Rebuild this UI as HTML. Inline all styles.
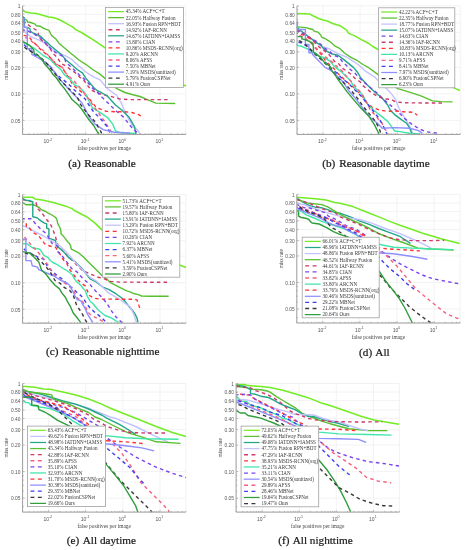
<!DOCTYPE html><html><head><meta charset="utf-8"><style>html,body{margin:0;padding:0;background:#fff;}svg{display:block;filter:blur(0.3px);}</style></head><body>
<svg width="465" height="550" viewBox="0 0 465 550">
<rect width="465" height="550" fill="#fff"/>
<line x1="48.55" y1="5.80" x2="48.55" y2="134.40" stroke="#ebebeb" stroke-width="0.6"/><line x1="85.68" y1="5.80" x2="85.68" y2="134.40" stroke="#ebebeb" stroke-width="0.6"/><line x1="122.81" y1="5.80" x2="122.81" y2="134.40" stroke="#ebebeb" stroke-width="0.6"/><line x1="159.94" y1="5.80" x2="159.94" y2="134.40" stroke="#ebebeb" stroke-width="0.6"/><line x1="22.60" y1="14.34" x2="185.90" y2="14.34" stroke="#ebebeb" stroke-width="0.6"/><line x1="22.60" y1="22.88" x2="185.90" y2="22.88" stroke="#ebebeb" stroke-width="0.6"/><line x1="22.60" y1="32.32" x2="185.90" y2="32.32" stroke="#ebebeb" stroke-width="0.6"/><line x1="22.60" y1="40.86" x2="185.90" y2="40.86" stroke="#ebebeb" stroke-width="0.6"/><line x1="22.60" y1="51.87" x2="185.90" y2="51.87" stroke="#ebebeb" stroke-width="0.6"/><line x1="22.60" y1="67.38" x2="185.90" y2="67.38" stroke="#ebebeb" stroke-width="0.6"/><line x1="22.60" y1="93.90" x2="185.90" y2="93.90" stroke="#ebebeb" stroke-width="0.6"/><line x1="22.60" y1="120.42" x2="185.90" y2="120.42" stroke="#ebebeb" stroke-width="0.6"/><path d="M22.60 5.80H185.90V134.40" fill="none" stroke="#ececec" stroke-width="0.7"/>
<polyline points="22.7,10.2 25.4,12.0 30.8,13.1 36.1,13.6 40.0,14.5 44.3,15.7 48.6,17.0 52.9,17.6 57.2,18.8 61.5,20.7 65.8,23.1 70.1,25.6 72.7,26.9 76.1,29.9 80.0,31.7 84.5,34.5 93.4,39.8 105.0,47.9 140.0,65.0 185.9,86.0" fill="none" stroke="#72ec24" stroke-width="1.55" stroke-linejoin="round"/>
<polyline points="23.2,18.3 24.3,18.8 27.0,20.4 27.5,22.0 30.8,22.5 35.0,24.1 36.1,25.7 40.4,26.3 43.7,28.4 48.9,30.3 50.6,33.8 52.4,36.3 55.8,38.9 58.4,42.4 61.8,45.8 66.1,49.2 70.0,52.7 73.6,55.5 78.9,60.0 85.8,64.3 92.7,69.5 100.0,74.2 105.9,79.1 116.8,88.6 125.0,92.5 132.0,94.5 140.0,96.5 147.4,99.6 155.8,103.1 175.3,103.5" fill="none" stroke="#58c030" stroke-width="1.4" stroke-linejoin="round"/>
<polyline points="22.6,28.0 26.0,33.0 31.7,37.2 38.6,39.8 44.6,43.2 49.8,47.5 55.8,51.8 61.8,54.4 66.1,56.1 71.2,59.0 78.9,66.0 85.8,72.0 92.7,76.3 100.0,79.8 107.3,88.6 116.8,95.5 120.9,102.3 125.0,111.8 129.1,120.0 133.2,126.8 137.3,129.6 140.0,134.0" fill="none" stroke="#c2c2ff" stroke-width="1.4" stroke-linejoin="round"/>
<polyline points="22.6,21.3 25.4,22.5 26.3,22.5 27.4,24.2 30.1,26.3 32.2,27.1 34.4,29.0 36.5,30.1 38.1,32.8 38.7,34.9 40.3,39.2 42.4,40.8 45.5,43.2 49.8,48.4 54.1,54.4 57.5,57.8 60.9,63.4 66.0,66.0 70.3,69.5 75.5,72.9 79.8,77.2 84.1,80.6 90.9,90.0 100.5,94.1 110.0,96.2 119.6,98.9 129.1,99.6 168.4,99.6" fill="none" stroke="#cc3a6a" stroke-width="1.4" stroke-linejoin="round" stroke-dasharray="3.5,3.2" stroke-dashoffset="0"/>
<polyline points="22.6,16.5 24.3,17.7 24.4,27.4 28.5,27.9 30.1,29.0 30.1,31.1 32.8,32.8 35.4,33.8 38.1,35.4 40.8,36.5 43.0,38.7 45.1,40.8 47.2,42.4 50.6,45.8 54.9,49.2 59.2,52.7 62.7,56.1 66.0,60.0 71.2,64.3 77.2,69.5 82.4,72.9 85.8,78.1 90.1,83.2 94.4,88.4 97.8,91.0 100.0,91.8 107.3,96.0 115.5,105.0 122.3,110.5 129.1,117.3 134.6,126.8 135.9,134.0" fill="none" stroke="#22a688" stroke-width="1.4" stroke-linejoin="round"/>
<polyline points="22.6,30.1 26.3,30.1 29.0,31.7 34.9,34.4 38.1,37.1 40.8,38.1 43.5,40.8 45.7,43.5 47.2,44.9 51.5,49.2 55.8,52.7 61.0,55.3 64.4,57.8 66.0,62.6 71.2,66.9 75.5,71.2 78.9,74.6 84.1,78.9 88.4,83.2 92.7,88.4 97.0,91.8 100.0,95.3 107.3,102.3 115.5,110.5 123.7,117.3 129.1,124.1 133.2,129.6 139.0,133.5" fill="none" stroke="#7a44ee" stroke-width="1.4" stroke-linejoin="round" stroke-dasharray="3.5,3.2" stroke-dashoffset="1.3"/>
<polyline points="22.6,31.5 23.6,32.2 24.2,33.8 24.2,35.4 29.0,36.5 31.1,39.7 32.8,41.4 34.9,43.5 36.5,45.1 38.6,47.5 42.0,51.0 45.5,53.5 49.0,56.3 53.5,60.8 55.8,64.5 60.0,66.0 62.6,67.7 65.2,72.9 68.6,77.2 72.9,85.0 77.2,88.4 82.4,92.7 86.7,96.1 89.2,98.7 96.4,107.7 105.9,111.2 115.5,111.8 125.0,111.8 131.8,112.5 138.7,114.6 142.5,117.1" fill="none" stroke="#ff3030" stroke-width="1.4" stroke-linejoin="round" stroke-dasharray="3.5,3.2" stroke-dashoffset="2.6"/>
<polyline points="22.6,42.0 28.0,44.5 34.3,48.4 38.6,51.8 42.9,55.3 47.5,57.8 50.6,60.0 55.0,64.5 61.0,69.8 64.3,74.6 68.6,78.1 72.9,82.4 74.6,85.0 78.9,86.7 83.2,91.0 85.8,94.4 87.5,97.8 88.4,100.0 92.3,107.7 99.1,111.8 107.3,117.3 112.7,124.1 115.5,131.0 121.0,132.8 135.0,133.5" fill="none" stroke="#40e6aa" stroke-width="1.4" stroke-linejoin="round"/>
<polyline points="22.6,36.0 30.0,40.0 40.0,48.0 45.0,52.0 50.0,57.0 55.8,64.5 58.0,64.5 62.6,67.6 65.6,72.8 69.3,76.6 75.0,82.0 80.0,88.0 88.0,98.0 95.0,108.0 100.0,115.0 105.0,122.0 110.0,130.0 113.0,134.0" fill="none" stroke="#f8607e" stroke-width="1.4" stroke-linejoin="round" stroke-dasharray="3.5,3.2" stroke-dashoffset="3.9"/>
<polyline points="22.6,44.0 24.6,45.2 32.3,52.9 41.4,59.4 47.5,63.8 52.0,68.3 55.0,72.8 60.0,77.2 64.3,80.6 68.6,84.1 72.0,87.5 76.3,91.8 80.6,95.3 84.9,98.7 88.2,104.0 93.6,111.8 100.5,118.7 107.3,126.8 110.0,132.8" fill="none" stroke="#4040f0" stroke-width="1.4" stroke-linejoin="round" stroke-dasharray="3.5,3.2" stroke-dashoffset="5.2"/>
<polyline points="24.0,18.3 24.0,27.3 27.3,27.3 27.3,48.6 31.8,48.6 31.8,54.3 40.0,59.0 47.5,64.0 52.0,69.0 56.0,74.0 60.0,79.8 65.2,85.0 69.5,90.1 73.8,94.4 78.1,98.7 82.0,103.0 89.5,117.3 95.0,124.1 103.2,129.6 114.1,132.3 130.0,133.0" fill="none" stroke="#8e8eff" stroke-width="1.4" stroke-linejoin="round"/>
<polyline points="22.6,46.0 28.0,50.0 36.9,54.4 42.0,58.7 48.0,65.0 52.0,70.0 56.0,75.0 61.7,81.5 66.0,85.8 70.3,90.1 74.6,94.4 78.1,98.7 80.0,103.7 88.2,114.6 95.0,121.4 100.5,131.0 102.0,134.0" fill="none" stroke="#383838" stroke-width="1.4" stroke-linejoin="round" stroke-dasharray="3.5,3.2" stroke-dashoffset="4.5"/>
<polyline points="22.6,41.5 25.3,42.9 29.4,45.3 33.5,49.4 34.3,53.5 38.4,56.0 42.0,59.3 44.5,63.8 49.8,69.8 53.5,75.0 56.5,78.0 60.0,83.2 64.3,88.4 68.6,94.4 72.0,99.6 78.8,105.6 82.0,109.5 88.2,118.7 93.6,125.5 97.7,132.3 99.0,134.0" fill="none" stroke="#2f9e3c" stroke-width="1.4" stroke-linejoin="round"/>
<path d="M22.60 5.80V134.40H185.90" fill="none" stroke="#9a9a9a" stroke-width="1"/><line x1="22.60" y1="134.40" x2="22.60" y2="133.20" stroke="#9a9a9a" stroke-width="0.6"/><line x1="29.14" y1="134.40" x2="29.14" y2="133.20" stroke="#9a9a9a" stroke-width="0.6"/><line x1="33.78" y1="134.40" x2="33.78" y2="133.20" stroke="#9a9a9a" stroke-width="0.6"/><line x1="37.38" y1="134.40" x2="37.38" y2="133.20" stroke="#9a9a9a" stroke-width="0.6"/><line x1="40.32" y1="134.40" x2="40.32" y2="133.20" stroke="#9a9a9a" stroke-width="0.6"/><line x1="42.80" y1="134.40" x2="42.80" y2="133.20" stroke="#9a9a9a" stroke-width="0.6"/><line x1="44.95" y1="134.40" x2="44.95" y2="133.20" stroke="#9a9a9a" stroke-width="0.6"/><line x1="46.85" y1="134.40" x2="46.85" y2="133.20" stroke="#9a9a9a" stroke-width="0.6"/><line x1="48.55" y1="134.40" x2="48.55" y2="132.40" stroke="#9a9a9a" stroke-width="0.6"/><line x1="59.73" y1="134.40" x2="59.73" y2="133.20" stroke="#9a9a9a" stroke-width="0.6"/><line x1="66.27" y1="134.40" x2="66.27" y2="133.20" stroke="#9a9a9a" stroke-width="0.6"/><line x1="70.91" y1="134.40" x2="70.91" y2="133.20" stroke="#9a9a9a" stroke-width="0.6"/><line x1="74.51" y1="134.40" x2="74.51" y2="133.20" stroke="#9a9a9a" stroke-width="0.6"/><line x1="77.45" y1="134.40" x2="77.45" y2="133.20" stroke="#9a9a9a" stroke-width="0.6"/><line x1="79.93" y1="134.40" x2="79.93" y2="133.20" stroke="#9a9a9a" stroke-width="0.6"/><line x1="82.08" y1="134.40" x2="82.08" y2="133.20" stroke="#9a9a9a" stroke-width="0.6"/><line x1="83.98" y1="134.40" x2="83.98" y2="133.20" stroke="#9a9a9a" stroke-width="0.6"/><line x1="85.68" y1="134.40" x2="85.68" y2="132.40" stroke="#9a9a9a" stroke-width="0.6"/><line x1="96.86" y1="134.40" x2="96.86" y2="133.20" stroke="#9a9a9a" stroke-width="0.6"/><line x1="103.40" y1="134.40" x2="103.40" y2="133.20" stroke="#9a9a9a" stroke-width="0.6"/><line x1="108.04" y1="134.40" x2="108.04" y2="133.20" stroke="#9a9a9a" stroke-width="0.6"/><line x1="111.64" y1="134.40" x2="111.64" y2="133.20" stroke="#9a9a9a" stroke-width="0.6"/><line x1="114.58" y1="134.40" x2="114.58" y2="133.20" stroke="#9a9a9a" stroke-width="0.6"/><line x1="117.06" y1="134.40" x2="117.06" y2="133.20" stroke="#9a9a9a" stroke-width="0.6"/><line x1="119.21" y1="134.40" x2="119.21" y2="133.20" stroke="#9a9a9a" stroke-width="0.6"/><line x1="121.11" y1="134.40" x2="121.11" y2="133.20" stroke="#9a9a9a" stroke-width="0.6"/><line x1="122.81" y1="134.40" x2="122.81" y2="132.40" stroke="#9a9a9a" stroke-width="0.6"/><line x1="133.99" y1="134.40" x2="133.99" y2="133.20" stroke="#9a9a9a" stroke-width="0.6"/><line x1="140.53" y1="134.40" x2="140.53" y2="133.20" stroke="#9a9a9a" stroke-width="0.6"/><line x1="145.17" y1="134.40" x2="145.17" y2="133.20" stroke="#9a9a9a" stroke-width="0.6"/><line x1="148.77" y1="134.40" x2="148.77" y2="133.20" stroke="#9a9a9a" stroke-width="0.6"/><line x1="151.71" y1="134.40" x2="151.71" y2="133.20" stroke="#9a9a9a" stroke-width="0.6"/><line x1="154.19" y1="134.40" x2="154.19" y2="133.20" stroke="#9a9a9a" stroke-width="0.6"/><line x1="156.34" y1="134.40" x2="156.34" y2="133.20" stroke="#9a9a9a" stroke-width="0.6"/><line x1="158.24" y1="134.40" x2="158.24" y2="133.20" stroke="#9a9a9a" stroke-width="0.6"/><line x1="159.94" y1="134.40" x2="159.94" y2="132.40" stroke="#9a9a9a" stroke-width="0.6"/><line x1="171.12" y1="134.40" x2="171.12" y2="133.20" stroke="#9a9a9a" stroke-width="0.6"/><line x1="177.66" y1="134.40" x2="177.66" y2="133.20" stroke="#9a9a9a" stroke-width="0.6"/><line x1="182.30" y1="134.40" x2="182.30" y2="133.20" stroke="#9a9a9a" stroke-width="0.6"/><line x1="185.90" y1="134.40" x2="185.90" y2="133.20" stroke="#9a9a9a" stroke-width="0.6"/><line x1="22.60" y1="128.96" x2="23.80" y2="128.96" stroke="#9a9a9a" stroke-width="0.6"/><line x1="22.60" y1="120.42" x2="24.60" y2="120.42" stroke="#9a9a9a" stroke-width="0.6"/><line x1="22.60" y1="113.44" x2="23.80" y2="113.44" stroke="#9a9a9a" stroke-width="0.6"/><line x1="22.60" y1="107.55" x2="23.80" y2="107.55" stroke="#9a9a9a" stroke-width="0.6"/><line x1="22.60" y1="102.44" x2="23.80" y2="102.44" stroke="#9a9a9a" stroke-width="0.6"/><line x1="22.60" y1="97.93" x2="23.80" y2="97.93" stroke="#9a9a9a" stroke-width="0.6"/><line x1="22.60" y1="93.90" x2="24.60" y2="93.90" stroke="#9a9a9a" stroke-width="0.6"/><line x1="22.60" y1="67.38" x2="24.60" y2="67.38" stroke="#9a9a9a" stroke-width="0.6"/><line x1="22.60" y1="51.87" x2="24.60" y2="51.87" stroke="#9a9a9a" stroke-width="0.6"/><line x1="22.60" y1="40.86" x2="24.60" y2="40.86" stroke="#9a9a9a" stroke-width="0.6"/><line x1="22.60" y1="32.32" x2="24.60" y2="32.32" stroke="#9a9a9a" stroke-width="0.6"/><line x1="22.60" y1="25.34" x2="23.80" y2="25.34" stroke="#9a9a9a" stroke-width="0.6"/><line x1="22.60" y1="22.88" x2="24.60" y2="22.88" stroke="#9a9a9a" stroke-width="0.6"/><line x1="22.60" y1="19.45" x2="23.80" y2="19.45" stroke="#9a9a9a" stroke-width="0.6"/><line x1="22.60" y1="14.34" x2="24.60" y2="14.34" stroke="#9a9a9a" stroke-width="0.6"/><line x1="22.60" y1="9.83" x2="23.80" y2="9.83" stroke="#9a9a9a" stroke-width="0.6"/><line x1="22.60" y1="5.80" x2="24.60" y2="5.80" stroke="#9a9a9a" stroke-width="0.6"/>
<text x="20.40" y="8.10" text-anchor="end" font-family="Liberation Sans" font-size="4.85" fill="#555">1</text><text x="20.40" y="16.64" text-anchor="end" font-family="Liberation Sans" font-size="4.85" fill="#555">0.80</text><text x="20.40" y="25.18" text-anchor="end" font-family="Liberation Sans" font-size="4.85" fill="#555">0.64</text><text x="20.40" y="34.62" text-anchor="end" font-family="Liberation Sans" font-size="4.85" fill="#555">0.50</text><text x="20.40" y="43.16" text-anchor="end" font-family="Liberation Sans" font-size="4.85" fill="#555">0.40</text><text x="20.40" y="54.17" text-anchor="end" font-family="Liberation Sans" font-size="4.85" fill="#555">0.30</text><text x="20.40" y="69.68" text-anchor="end" font-family="Liberation Sans" font-size="4.85" fill="#555">0.20</text><text x="20.40" y="96.20" text-anchor="end" font-family="Liberation Sans" font-size="4.85" fill="#555">0.10</text><text x="20.40" y="122.72" text-anchor="end" font-family="Liberation Sans" font-size="4.85" fill="#555">0.05</text><text x="47.95" y="143.00" text-anchor="middle" font-family="Liberation Sans" font-size="5" fill="#555">10<tspan font-size="3.5" dy="-2.4">-2</tspan></text><text x="85.08" y="143.00" text-anchor="middle" font-family="Liberation Sans" font-size="5" fill="#555">10<tspan font-size="3.5" dy="-2.4">-1</tspan></text><text x="122.21" y="143.00" text-anchor="middle" font-family="Liberation Sans" font-size="5" fill="#555">10<tspan font-size="3.5" dy="-2.4">0</tspan></text><text x="159.34" y="143.00" text-anchor="middle" font-family="Liberation Sans" font-size="5" fill="#555">10<tspan font-size="3.5" dy="-2.4">1</tspan></text><text x="104.25" y="149.90" text-anchor="middle" font-family="Liberation Serif" font-size="5.4" fill="#444">false positives per image</text><text transform="translate(8.40,70.10) rotate(-90)" text-anchor="middle" font-family="Liberation Serif" font-size="5.4" fill="#444">miss rate</text>
<rect x="105.50" y="7.40" width="78.00" height="80.00" fill="#fff" stroke="#a0a0a0" stroke-width="0.8"/><line x1="108.10" y1="11.60" x2="124.00" y2="11.60" stroke="#72ec24" stroke-width="1.25"/><text transform="translate(125.80,13.45) scale(0.93,1)" font-family="Liberation Serif" font-size="5.5" fill="#383838">45.34% ACF+C+T</text><line x1="108.10" y1="17.65" x2="124.00" y2="17.65" stroke="#58c030" stroke-width="1.25"/><text transform="translate(125.80,19.50) scale(0.93,1)" font-family="Liberation Serif" font-size="5.5" fill="#383838">22.05% Halfway Fusion</text><line x1="108.10" y1="23.70" x2="124.00" y2="23.70" stroke="#c2c2ff" stroke-width="1.25"/><text transform="translate(125.80,25.55) scale(0.93,1)" font-family="Liberation Serif" font-size="5.5" fill="#383838">16.93% Fusion RPN+BDT</text><line x1="108.50" y1="29.75" x2="119.80" y2="29.75" stroke="#cc3a6a" stroke-width="1.3" stroke-dasharray="3.9,3.5"/><text transform="translate(125.80,31.60) scale(0.93,1)" font-family="Liberation Serif" font-size="5.5" fill="#383838">14.92% IAF-RCNN</text><line x1="108.10" y1="35.80" x2="124.00" y2="35.80" stroke="#22a688" stroke-width="1.25"/><text transform="translate(125.80,37.65) scale(0.93,1)" font-family="Liberation Serif" font-size="5.5" fill="#383838">14.67% IATDNN+IAMSS</text><line x1="108.50" y1="41.85" x2="119.80" y2="41.85" stroke="#7a44ee" stroke-width="1.3" stroke-dasharray="3.9,3.5"/><text transform="translate(125.80,43.70) scale(0.93,1)" font-family="Liberation Serif" font-size="5.5" fill="#383838">13.80% CIAN</text><line x1="108.50" y1="47.90" x2="119.80" y2="47.90" stroke="#ff3030" stroke-width="1.3" stroke-dasharray="3.9,3.5"/><text transform="translate(125.80,49.75) scale(0.93,1)" font-family="Liberation Serif" font-size="5.5" fill="#383838">10.86% MSDS-RCNN(org)</text><line x1="108.10" y1="53.95" x2="124.00" y2="53.95" stroke="#40e6aa" stroke-width="1.25"/><text transform="translate(125.80,55.80) scale(0.93,1)" font-family="Liberation Serif" font-size="5.5" fill="#383838">9.20% ARCNN</text><line x1="108.50" y1="60.00" x2="119.80" y2="60.00" stroke="#f8607e" stroke-width="1.3" stroke-dasharray="3.9,3.5"/><text transform="translate(125.80,61.85) scale(0.93,1)" font-family="Liberation Serif" font-size="5.5" fill="#383838">8.06% AFSS</text><line x1="108.50" y1="66.05" x2="119.80" y2="66.05" stroke="#4040f0" stroke-width="1.3" stroke-dasharray="3.9,3.5"/><text transform="translate(125.80,67.90) scale(0.93,1)" font-family="Liberation Serif" font-size="5.5" fill="#383838">7.50% MBNet</text><line x1="108.10" y1="72.10" x2="124.00" y2="72.10" stroke="#8e8eff" stroke-width="1.25"/><text transform="translate(125.80,73.95) scale(0.93,1)" font-family="Liberation Serif" font-size="5.5" fill="#383838">7.19% MSDS(sanitized)</text><line x1="108.50" y1="78.15" x2="119.80" y2="78.15" stroke="#383838" stroke-width="1.3" stroke-dasharray="3.9,3.5"/><text transform="translate(125.80,80.00) scale(0.93,1)" font-family="Liberation Serif" font-size="5.5" fill="#383838">5.79% FusionCSPNet</text><line x1="108.10" y1="84.20" x2="124.00" y2="84.20" stroke="#2f9e3c" stroke-width="1.25"/><text transform="translate(125.80,86.05) scale(0.93,1)" font-family="Liberation Serif" font-size="5.5" fill="#383838">4.91% Ours</text>
<text x="68.20" y="167.00" font-family="Liberation Serif" font-size="11.2" fill="#1a1a1a" stroke="#1a1a1a" stroke-width="0.22">(a)<tspan dx="0.8"> Reasonable</tspan></text>
<line x1="322.95" y1="5.80" x2="322.95" y2="134.40" stroke="#ebebeb" stroke-width="0.6"/><line x1="360.08" y1="5.80" x2="360.08" y2="134.40" stroke="#ebebeb" stroke-width="0.6"/><line x1="397.21" y1="5.80" x2="397.21" y2="134.40" stroke="#ebebeb" stroke-width="0.6"/><line x1="434.34" y1="5.80" x2="434.34" y2="134.40" stroke="#ebebeb" stroke-width="0.6"/><line x1="297.00" y1="14.34" x2="460.30" y2="14.34" stroke="#ebebeb" stroke-width="0.6"/><line x1="297.00" y1="22.88" x2="460.30" y2="22.88" stroke="#ebebeb" stroke-width="0.6"/><line x1="297.00" y1="32.32" x2="460.30" y2="32.32" stroke="#ebebeb" stroke-width="0.6"/><line x1="297.00" y1="40.86" x2="460.30" y2="40.86" stroke="#ebebeb" stroke-width="0.6"/><line x1="297.00" y1="51.87" x2="460.30" y2="51.87" stroke="#ebebeb" stroke-width="0.6"/><line x1="297.00" y1="67.38" x2="460.30" y2="67.38" stroke="#ebebeb" stroke-width="0.6"/><line x1="297.00" y1="93.90" x2="460.30" y2="93.90" stroke="#ebebeb" stroke-width="0.6"/><line x1="297.00" y1="120.42" x2="460.30" y2="120.42" stroke="#ebebeb" stroke-width="0.6"/><path d="M297.00 5.80H460.30V134.40" fill="none" stroke="#ececec" stroke-width="0.7"/>
<polyline points="297.0,13.6 310.0,14.1 313.0,15.8 318.0,18.3 323.1,20.0 328.0,21.3 332.6,23.5 340.0,25.7 346.6,30.1 348.7,33.4 354.2,35.6 361.8,39.9 368.4,43.2 372.8,46.5 378.0,49.5 420.0,70.0 455.5,88.6 459.8,90.5" fill="none" stroke="#72ec24" stroke-width="1.55" stroke-linejoin="round"/>
<polyline points="297.3,26.9 305.7,27.6 308.9,28.5 312.8,29.5 314.1,31.1 317.9,32.1 320.5,34.7 321.8,37.3 325.0,38.5 329.5,41.3 334.7,45.8 340.0,48.7 344.4,53.0 350.9,57.4 357.5,60.7 362.9,64.5 367.3,66.8 376.8,73.6 390.0,84.0 397.9,88.6 409.4,92.2 420.9,95.9 432.5,100.9 441.1,101.6 452.6,101.9" fill="none" stroke="#58c030" stroke-width="1.4" stroke-linejoin="round"/>
<polyline points="297.0,29.0 305.0,34.0 312.0,39.0 318.0,44.0 322.0,46.5 328.4,48.4 337.9,53.6 346.5,57.0 353.4,61.3 359.4,65.6 365.0,70.8 375.5,77.7 380.9,83.2 386.4,88.6 390.5,92.7 395.0,98.7 399.3,108.8 403.6,116.0 408.0,123.2 410.9,129.0 413.0,134.0" fill="none" stroke="#c2c2ff" stroke-width="1.4" stroke-linejoin="round"/>
<polyline points="297.0,27.5 300.0,30.0 305.0,34.0 308.9,36.8 315.4,41.9 320.5,45.0 325.0,50.2 331.0,53.6 337.9,55.3 343.9,59.6 349.1,63.9 353.4,67.4 357.7,72.5 360.5,77.5 367.3,85.0 375.5,92.7 382.3,98.2 387.7,105.0 390.5,110.5 394.6,114.6 400.0,118.6 406.5,123.2 409.4,127.6 412.0,134.0" fill="none" stroke="#22a688" stroke-width="1.4" stroke-linejoin="round"/>
<polyline points="297.0,31.0 305.0,35.0 312.8,39.4 319.2,43.0 325.0,48.4 330.2,51.9 333.6,55.3 338.8,57.0 342.2,61.3 346.5,65.6 349.9,69.1 354.2,72.5 358.5,76.8 362.8,81.1 370.0,87.3 376.8,92.7 383.7,99.6 391.8,106.4 399.3,113.1 405.1,118.9 412.3,124.7 419.5,129.0 426.7,131.9 432.5,132.6 438.2,133.3" fill="none" stroke="#7a44ee" stroke-width="1.4" stroke-linejoin="round" stroke-dasharray="3.5,3.2" stroke-dashoffset="1.3"/>
<polyline points="297.0,30.0 303.7,32.9 312.8,40.6 319.2,47.1 327.6,53.2 331.0,57.0 334.5,61.3 338.8,63.9 342.2,68.2 346.5,70.8 350.8,74.2 355.1,78.5 360.3,82.0 363.2,85.9 371.4,92.7 378.2,96.8 385.0,98.9 391.8,99.6 395.0,101.6 403.6,102.8 442.6,103.1" fill="none" stroke="#cc3a6a" stroke-width="1.4" stroke-linejoin="round" stroke-dasharray="3.5,3.2" stroke-dashoffset="0"/>
<polyline points="297.0,33.0 303.7,35.0 308.9,38.0 315.4,48.0 321.8,55.0 325.0,60.0 330.2,65.6 333.6,68.2 337.9,73.4 341.3,76.6 346.8,81.8 355.0,88.6 361.8,95.5 367.3,103.7 372.7,107.7 380.9,110.5 389.1,111.2 395.0,111.0 403.6,111.7 413.7,112.4 417.3,115.3" fill="none" stroke="#ff3030" stroke-width="1.4" stroke-linejoin="round" stroke-dasharray="3.5,3.2" stroke-dashoffset="2.6"/>
<polyline points="296.8,43.7 297.9,45.6 301.8,46.3 304.4,47.6 308.9,49.5 312.1,52.1 315.4,53.4 320.0,56.5 325.0,57.9 330.2,61.3 333.6,65.6 337.9,69.1 342.2,72.5 346.5,76.8 350.8,81.1 353.6,86.5 361.8,94.1 367.3,103.7 374.1,110.5 380.9,115.9 387.7,121.4 391.8,126.8 394.6,131.0 400.0,131.6 409.4,133.3 420.0,134.0" fill="none" stroke="#40e6aa" stroke-width="1.4" stroke-linejoin="round"/>
<polyline points="297.0,34.0 305.0,38.0 312.0,44.0 320.0,52.0 327.0,58.0 333.6,63.0 337.9,67.5 342.2,71.0 345.6,75.5 350.8,81.0 356.0,87.0 362.0,94.0 366.0,101.0 370.6,110.6 374.9,114.9 378.4,119.2 381.8,122.7 384.4,128.7 386.1,130.4 388.0,134.0" fill="none" stroke="#f8607e" stroke-width="1.4" stroke-linejoin="round" stroke-dasharray="3.5,3.2" stroke-dashoffset="3.9"/>
<polyline points="297.0,41.9 302.5,43.2 308.0,47.0 315.0,54.0 320.0,58.0 328.4,64.8 331.9,69.1 336.2,72.5 341.4,77.7 348.2,83.2 355.0,90.0 361.8,96.8 367.3,103.7 372.7,110.5 378.2,117.3 382.3,124.1 385.0,129.6 387.0,134.0" fill="none" stroke="#4040f0" stroke-width="1.4" stroke-linejoin="round" stroke-dasharray="3.5,3.2" stroke-dashoffset="5.2"/>
<polyline points="297.3,21.3 297.3,29.5 305.4,29.5 305.4,44.4 308.9,44.4 308.9,52.7 312.1,52.7 312.8,54.8 317.9,60.0 321.8,63.9 325.0,67.4 330.2,70.0 335.3,74.2 339.6,78.5 343.9,82.8 348.2,90.0 356.4,99.6 364.6,110.5 370.0,117.3 376.8,122.8 382.3,128.2 395.0,127.6 409.4,128.3 418.0,130.4 422.4,133.3" fill="none" stroke="#8e8eff" stroke-width="1.4" stroke-linejoin="round"/>
<polyline points="297.3,39.4 303.7,43.2 309.0,48.0 315.0,54.0 320.5,59.0 327.0,65.0 333.4,72.0 337.9,78.0 341.4,80.5 348.2,87.3 356.4,96.8 363.2,106.4 370.0,114.6 375.5,121.4 379.6,129.6 381.0,134.0" fill="none" stroke="#383838" stroke-width="1.4" stroke-linejoin="round" stroke-dasharray="3.5,3.2" stroke-dashoffset="4.5"/>
<polyline points="297.3,36.6 301.8,36.6 301.8,38.9 305.7,39.8 308.9,41.1 312.8,43.7 313.4,46.9 313.4,52.1 315.4,53.4 320.5,57.4 325.0,63.1 329.3,65.6 331.9,70.8 335.3,75.1 337.9,79.4 340.5,82.8 346.8,91.4 353.6,99.6 361.8,109.1 368.6,115.9 374.1,124.1 378.2,132.3 379.0,134.0" fill="none" stroke="#2f9e3c" stroke-width="1.4" stroke-linejoin="round"/>
<path d="M297.00 5.80V134.40H460.30" fill="none" stroke="#9a9a9a" stroke-width="1"/><line x1="297.00" y1="134.40" x2="297.00" y2="133.20" stroke="#9a9a9a" stroke-width="0.6"/><line x1="303.54" y1="134.40" x2="303.54" y2="133.20" stroke="#9a9a9a" stroke-width="0.6"/><line x1="308.18" y1="134.40" x2="308.18" y2="133.20" stroke="#9a9a9a" stroke-width="0.6"/><line x1="311.78" y1="134.40" x2="311.78" y2="133.20" stroke="#9a9a9a" stroke-width="0.6"/><line x1="314.72" y1="134.40" x2="314.72" y2="133.20" stroke="#9a9a9a" stroke-width="0.6"/><line x1="317.20" y1="134.40" x2="317.20" y2="133.20" stroke="#9a9a9a" stroke-width="0.6"/><line x1="319.35" y1="134.40" x2="319.35" y2="133.20" stroke="#9a9a9a" stroke-width="0.6"/><line x1="321.25" y1="134.40" x2="321.25" y2="133.20" stroke="#9a9a9a" stroke-width="0.6"/><line x1="322.95" y1="134.40" x2="322.95" y2="132.40" stroke="#9a9a9a" stroke-width="0.6"/><line x1="334.13" y1="134.40" x2="334.13" y2="133.20" stroke="#9a9a9a" stroke-width="0.6"/><line x1="340.67" y1="134.40" x2="340.67" y2="133.20" stroke="#9a9a9a" stroke-width="0.6"/><line x1="345.31" y1="134.40" x2="345.31" y2="133.20" stroke="#9a9a9a" stroke-width="0.6"/><line x1="348.91" y1="134.40" x2="348.91" y2="133.20" stroke="#9a9a9a" stroke-width="0.6"/><line x1="351.85" y1="134.40" x2="351.85" y2="133.20" stroke="#9a9a9a" stroke-width="0.6"/><line x1="354.33" y1="134.40" x2="354.33" y2="133.20" stroke="#9a9a9a" stroke-width="0.6"/><line x1="356.48" y1="134.40" x2="356.48" y2="133.20" stroke="#9a9a9a" stroke-width="0.6"/><line x1="358.38" y1="134.40" x2="358.38" y2="133.20" stroke="#9a9a9a" stroke-width="0.6"/><line x1="360.08" y1="134.40" x2="360.08" y2="132.40" stroke="#9a9a9a" stroke-width="0.6"/><line x1="371.26" y1="134.40" x2="371.26" y2="133.20" stroke="#9a9a9a" stroke-width="0.6"/><line x1="377.80" y1="134.40" x2="377.80" y2="133.20" stroke="#9a9a9a" stroke-width="0.6"/><line x1="382.44" y1="134.40" x2="382.44" y2="133.20" stroke="#9a9a9a" stroke-width="0.6"/><line x1="386.04" y1="134.40" x2="386.04" y2="133.20" stroke="#9a9a9a" stroke-width="0.6"/><line x1="388.98" y1="134.40" x2="388.98" y2="133.20" stroke="#9a9a9a" stroke-width="0.6"/><line x1="391.46" y1="134.40" x2="391.46" y2="133.20" stroke="#9a9a9a" stroke-width="0.6"/><line x1="393.61" y1="134.40" x2="393.61" y2="133.20" stroke="#9a9a9a" stroke-width="0.6"/><line x1="395.51" y1="134.40" x2="395.51" y2="133.20" stroke="#9a9a9a" stroke-width="0.6"/><line x1="397.21" y1="134.40" x2="397.21" y2="132.40" stroke="#9a9a9a" stroke-width="0.6"/><line x1="408.39" y1="134.40" x2="408.39" y2="133.20" stroke="#9a9a9a" stroke-width="0.6"/><line x1="414.93" y1="134.40" x2="414.93" y2="133.20" stroke="#9a9a9a" stroke-width="0.6"/><line x1="419.57" y1="134.40" x2="419.57" y2="133.20" stroke="#9a9a9a" stroke-width="0.6"/><line x1="423.17" y1="134.40" x2="423.17" y2="133.20" stroke="#9a9a9a" stroke-width="0.6"/><line x1="426.11" y1="134.40" x2="426.11" y2="133.20" stroke="#9a9a9a" stroke-width="0.6"/><line x1="428.59" y1="134.40" x2="428.59" y2="133.20" stroke="#9a9a9a" stroke-width="0.6"/><line x1="430.74" y1="134.40" x2="430.74" y2="133.20" stroke="#9a9a9a" stroke-width="0.6"/><line x1="432.64" y1="134.40" x2="432.64" y2="133.20" stroke="#9a9a9a" stroke-width="0.6"/><line x1="434.34" y1="134.40" x2="434.34" y2="132.40" stroke="#9a9a9a" stroke-width="0.6"/><line x1="445.52" y1="134.40" x2="445.52" y2="133.20" stroke="#9a9a9a" stroke-width="0.6"/><line x1="452.06" y1="134.40" x2="452.06" y2="133.20" stroke="#9a9a9a" stroke-width="0.6"/><line x1="456.70" y1="134.40" x2="456.70" y2="133.20" stroke="#9a9a9a" stroke-width="0.6"/><line x1="460.30" y1="134.40" x2="460.30" y2="133.20" stroke="#9a9a9a" stroke-width="0.6"/><line x1="297.00" y1="128.96" x2="298.20" y2="128.96" stroke="#9a9a9a" stroke-width="0.6"/><line x1="297.00" y1="120.42" x2="299.00" y2="120.42" stroke="#9a9a9a" stroke-width="0.6"/><line x1="297.00" y1="113.44" x2="298.20" y2="113.44" stroke="#9a9a9a" stroke-width="0.6"/><line x1="297.00" y1="107.55" x2="298.20" y2="107.55" stroke="#9a9a9a" stroke-width="0.6"/><line x1="297.00" y1="102.44" x2="298.20" y2="102.44" stroke="#9a9a9a" stroke-width="0.6"/><line x1="297.00" y1="97.93" x2="298.20" y2="97.93" stroke="#9a9a9a" stroke-width="0.6"/><line x1="297.00" y1="93.90" x2="299.00" y2="93.90" stroke="#9a9a9a" stroke-width="0.6"/><line x1="297.00" y1="67.38" x2="299.00" y2="67.38" stroke="#9a9a9a" stroke-width="0.6"/><line x1="297.00" y1="51.87" x2="299.00" y2="51.87" stroke="#9a9a9a" stroke-width="0.6"/><line x1="297.00" y1="40.86" x2="299.00" y2="40.86" stroke="#9a9a9a" stroke-width="0.6"/><line x1="297.00" y1="32.32" x2="299.00" y2="32.32" stroke="#9a9a9a" stroke-width="0.6"/><line x1="297.00" y1="25.34" x2="298.20" y2="25.34" stroke="#9a9a9a" stroke-width="0.6"/><line x1="297.00" y1="22.88" x2="299.00" y2="22.88" stroke="#9a9a9a" stroke-width="0.6"/><line x1="297.00" y1="19.45" x2="298.20" y2="19.45" stroke="#9a9a9a" stroke-width="0.6"/><line x1="297.00" y1="14.34" x2="299.00" y2="14.34" stroke="#9a9a9a" stroke-width="0.6"/><line x1="297.00" y1="9.83" x2="298.20" y2="9.83" stroke="#9a9a9a" stroke-width="0.6"/><line x1="297.00" y1="5.80" x2="299.00" y2="5.80" stroke="#9a9a9a" stroke-width="0.6"/>
<text x="294.80" y="8.10" text-anchor="end" font-family="Liberation Sans" font-size="4.85" fill="#555">1</text><text x="294.80" y="16.64" text-anchor="end" font-family="Liberation Sans" font-size="4.85" fill="#555">0.80</text><text x="294.80" y="25.18" text-anchor="end" font-family="Liberation Sans" font-size="4.85" fill="#555">0.64</text><text x="294.80" y="34.62" text-anchor="end" font-family="Liberation Sans" font-size="4.85" fill="#555">0.50</text><text x="294.80" y="43.16" text-anchor="end" font-family="Liberation Sans" font-size="4.85" fill="#555">0.40</text><text x="294.80" y="54.17" text-anchor="end" font-family="Liberation Sans" font-size="4.85" fill="#555">0.30</text><text x="294.80" y="69.68" text-anchor="end" font-family="Liberation Sans" font-size="4.85" fill="#555">0.20</text><text x="294.80" y="96.20" text-anchor="end" font-family="Liberation Sans" font-size="4.85" fill="#555">0.10</text><text x="294.80" y="122.72" text-anchor="end" font-family="Liberation Sans" font-size="4.85" fill="#555">0.05</text><text x="322.35" y="143.00" text-anchor="middle" font-family="Liberation Sans" font-size="5" fill="#555">10<tspan font-size="3.5" dy="-2.4">-2</tspan></text><text x="359.48" y="143.00" text-anchor="middle" font-family="Liberation Sans" font-size="5" fill="#555">10<tspan font-size="3.5" dy="-2.4">-1</tspan></text><text x="396.61" y="143.00" text-anchor="middle" font-family="Liberation Sans" font-size="5" fill="#555">10<tspan font-size="3.5" dy="-2.4">0</tspan></text><text x="433.74" y="143.00" text-anchor="middle" font-family="Liberation Sans" font-size="5" fill="#555">10<tspan font-size="3.5" dy="-2.4">1</tspan></text><text x="378.65" y="149.90" text-anchor="middle" font-family="Liberation Serif" font-size="5.4" fill="#444">false positives per image</text><text transform="translate(282.80,70.10) rotate(-90)" text-anchor="middle" font-family="Liberation Serif" font-size="5.4" fill="#444">miss rate</text>
<rect x="378.60" y="7.80" width="76.20" height="80.00" fill="#fff" stroke="#a0a0a0" stroke-width="0.8"/><line x1="381.20" y1="12.00" x2="397.10" y2="12.00" stroke="#72ec24" stroke-width="1.25"/><text transform="translate(398.90,13.85) scale(0.93,1)" font-family="Liberation Serif" font-size="5.5" fill="#383838">42.22% ACF+C+T</text><line x1="381.20" y1="18.05" x2="397.10" y2="18.05" stroke="#58c030" stroke-width="1.25"/><text transform="translate(398.90,19.90) scale(0.93,1)" font-family="Liberation Serif" font-size="5.5" fill="#383838">22.35% Halfway Fusion</text><line x1="381.20" y1="24.10" x2="397.10" y2="24.10" stroke="#c2c2ff" stroke-width="1.25"/><text transform="translate(398.90,25.95) scale(0.93,1)" font-family="Liberation Serif" font-size="5.5" fill="#383838">18.77% Fusion RPN+BDT</text><line x1="381.20" y1="30.15" x2="397.10" y2="30.15" stroke="#22a688" stroke-width="1.25"/><text transform="translate(398.90,32.00) scale(0.93,1)" font-family="Liberation Serif" font-size="5.5" fill="#383838">15.07% IATDNN+IAMSS</text><line x1="381.60" y1="36.20" x2="392.90" y2="36.20" stroke="#7a44ee" stroke-width="1.3" stroke-dasharray="3.9,3.5"/><text transform="translate(398.90,38.05) scale(0.93,1)" font-family="Liberation Serif" font-size="5.5" fill="#383838">14.63% CIAN</text><line x1="381.60" y1="42.25" x2="392.90" y2="42.25" stroke="#cc3a6a" stroke-width="1.3" stroke-dasharray="3.9,3.5"/><text transform="translate(398.90,44.10) scale(0.93,1)" font-family="Liberation Serif" font-size="5.5" fill="#383838">14.36% IAF-RCNN</text><line x1="381.60" y1="48.30" x2="392.90" y2="48.30" stroke="#ff3030" stroke-width="1.3" stroke-dasharray="3.9,3.5"/><text transform="translate(398.90,50.15) scale(0.93,1)" font-family="Liberation Serif" font-size="5.5" fill="#383838">10.83% MSDS-RCNN(org)</text><line x1="381.20" y1="54.35" x2="397.10" y2="54.35" stroke="#40e6aa" stroke-width="1.25"/><text transform="translate(398.90,56.20) scale(0.93,1)" font-family="Liberation Serif" font-size="5.5" fill="#383838">10.13% ARCNN</text><line x1="381.60" y1="60.40" x2="392.90" y2="60.40" stroke="#f8607e" stroke-width="1.3" stroke-dasharray="3.9,3.5"/><text transform="translate(398.90,62.25) scale(0.93,1)" font-family="Liberation Serif" font-size="5.5" fill="#383838">9.71% AFSS</text><line x1="381.60" y1="66.45" x2="392.90" y2="66.45" stroke="#4040f0" stroke-width="1.3" stroke-dasharray="3.9,3.5"/><text transform="translate(398.90,68.30) scale(0.93,1)" font-family="Liberation Serif" font-size="5.5" fill="#383838">8.41% MBNet</text><line x1="381.20" y1="72.50" x2="397.10" y2="72.50" stroke="#8e8eff" stroke-width="1.25"/><text transform="translate(398.90,74.35) scale(0.93,1)" font-family="Liberation Serif" font-size="5.5" fill="#383838">7.97% MSDS(sanitized)</text><line x1="381.60" y1="78.55" x2="392.90" y2="78.55" stroke="#383838" stroke-width="1.3" stroke-dasharray="3.9,3.5"/><text transform="translate(398.90,80.40) scale(0.93,1)" font-family="Liberation Serif" font-size="5.5" fill="#383838">6.90% FusionCSPNet</text><line x1="381.20" y1="84.60" x2="397.10" y2="84.60" stroke="#2f9e3c" stroke-width="1.25"/><text transform="translate(398.90,86.45) scale(0.93,1)" font-family="Liberation Serif" font-size="5.5" fill="#383838">6.23% Ours</text>
<text x="322.30" y="167.00" font-family="Liberation Serif" font-size="11.2" fill="#1a1a1a" stroke="#1a1a1a" stroke-width="0.22">(b)<tspan dx="1.2"> Reasonable daytime</tspan></text>
<line x1="48.55" y1="194.60" x2="48.55" y2="323.20" stroke="#ebebeb" stroke-width="0.6"/><line x1="85.68" y1="194.60" x2="85.68" y2="323.20" stroke="#ebebeb" stroke-width="0.6"/><line x1="122.81" y1="194.60" x2="122.81" y2="323.20" stroke="#ebebeb" stroke-width="0.6"/><line x1="159.94" y1="194.60" x2="159.94" y2="323.20" stroke="#ebebeb" stroke-width="0.6"/><line x1="22.60" y1="203.14" x2="185.90" y2="203.14" stroke="#ebebeb" stroke-width="0.6"/><line x1="22.60" y1="211.68" x2="185.90" y2="211.68" stroke="#ebebeb" stroke-width="0.6"/><line x1="22.60" y1="221.12" x2="185.90" y2="221.12" stroke="#ebebeb" stroke-width="0.6"/><line x1="22.60" y1="229.66" x2="185.90" y2="229.66" stroke="#ebebeb" stroke-width="0.6"/><line x1="22.60" y1="240.67" x2="185.90" y2="240.67" stroke="#ebebeb" stroke-width="0.6"/><line x1="22.60" y1="256.18" x2="185.90" y2="256.18" stroke="#ebebeb" stroke-width="0.6"/><line x1="22.60" y1="282.70" x2="185.90" y2="282.70" stroke="#ebebeb" stroke-width="0.6"/><line x1="22.60" y1="309.22" x2="185.90" y2="309.22" stroke="#ebebeb" stroke-width="0.6"/><path d="M22.60 194.60H185.90V323.20" fill="none" stroke="#ececec" stroke-width="0.7"/>
<polyline points="22.6,197.3 32.8,197.3 34.9,198.9 43.5,200.3 54.3,202.7 65.0,205.9 72.0,208.6 75.8,211.3 86.5,216.7 95.1,223.1 101.6,229.6 140.0,250.0 180.3,265.3 186.0,267.5" fill="none" stroke="#72ec24" stroke-width="1.55" stroke-linejoin="round"/>
<polyline points="22.6,202.5 26.3,204.8 32.8,204.5 34.9,205.4 39.2,207.5 41.4,209.7 45.7,211.5 47.8,212.9 51.9,215.0 55.8,217.6 57.1,220.2 57.7,223.4 59.0,226.0 60.3,228.5 61.0,231.8 61.0,233.7 62.9,235.6 65.5,238.9 67.4,241.5 69.4,243.4 70.6,246.0 71.3,249.2 78.8,252.9 83.2,256.8 88.6,262.3 95.5,269.1 100.9,274.6 106.4,278.6 110.5,282.7 118.7,286.8 126.8,290.9 130.0,291.8 133.9,293.7 137.7,294.4 141.6,296.0 149.4,296.3 168.7,296.3" fill="none" stroke="#58c030" stroke-width="1.4" stroke-linejoin="round"/>
<polyline points="22.6,199.5 36.0,202.7 38.1,209.1 41.4,212.4 44.6,216.7 47.8,221.0 51.0,225.3 53.2,230.6 55.3,236.0 56.4,240.3 58.6,246.8 67.2,255.4 75.8,264.0 82.0,270.0 88.6,273.2 98.2,277.3 103.6,278.6 110.5,281.4 120.0,282.1 167.4,282.3" fill="none" stroke="#cc3a6a" stroke-width="1.4" stroke-linejoin="round" stroke-dasharray="3.5,3.2" stroke-dashoffset="0"/>
<polyline points="22.6,198.4 26.3,200.5 28.5,200.5 32.8,201.6 32.8,216.7 37.0,217.7 40.9,220.9 44.5,223.1 46.7,223.8 46.7,228.2 48.9,228.9 48.9,238.4 51.6,239.2 55.5,240.5 56.1,244.4 58.7,247.6 61.9,250.2 65.2,253.4 67.7,256.6 70.0,258.6 75.5,262.0 78.7,265.2 81.3,267.8 83.9,271.0 86.5,274.3 88.4,276.8 90.0,278.8 95.5,281.5 102.3,286.8 109.1,289.6 115.9,293.7 121.4,297.7 125.5,301.8 129.6,307.3 132.6,310.5 135.2,314.4 137.0,318.0 138.0,322.5" fill="none" stroke="#22a688" stroke-width="1.4" stroke-linejoin="round"/>
<polyline points="22.6,225.3 34.9,231.7 43.5,236.0 54.3,242.5 60.0,246.0 67.2,252.9 76.0,263.0 83.2,270.5 90.0,277.3 96.8,281.4 102.3,286.8 107.7,292.3 114.6,296.4 121.4,300.5 126.8,304.6 130.0,306.6 133.9,314.4 136.5,322.5" fill="none" stroke="#c2c2ff" stroke-width="1.4" stroke-linejoin="round"/>
<polyline points="22.6,222.0 26.3,223.1 26.3,227.0 29.5,228.0 32.8,232.5 38.1,235.0 41.3,239.2 44.5,243.7 49.7,246.0 55.5,247.3 58.7,251.5 61.3,256.6 63.9,260.5 67.1,263.7 67.7,265.9 70.3,270.4 76.8,278.8 80.6,282.6 85.2,285.9 89.4,295.5 93.7,298.1 99.6,299.1 135.0,299.3 137.1,300.2 138.4,304.0 139.7,307.9" fill="none" stroke="#ff3030" stroke-width="1.4" stroke-linejoin="round" stroke-dasharray="3.5,3.2" stroke-dashoffset="2.6"/>
<polyline points="22.6,218.8 31.7,218.8 34.9,223.1 39.2,227.4 42.4,230.6 46.7,233.9 49.0,238.6 52.3,243.7 57.4,246.3 58.1,252.1 61.9,255.4 64.5,259.2 67.7,263.1 71.6,268.5 76.8,271.7 80.0,275.5 83.9,279.4 87.7,282.6 90.0,284.6 95.5,290.9 102.3,297.7 107.7,304.6 111.8,311.4 115.9,316.8 120.0,320.9 122.0,322.5" fill="none" stroke="#7a44ee" stroke-width="1.4" stroke-linejoin="round" stroke-dasharray="3.5,3.2" stroke-dashoffset="1.3"/>
<polyline points="22.6,243.7 27.2,243.9 32.3,247.7 38.8,249.0 40.0,249.5 41.9,252.1 43.9,255.4 47.7,257.3 50.3,260.5 52.9,262.5 56.8,264.4 60.0,266.5 63.2,268.5 66.5,270.4 70.3,273.0 72.3,274.9 74.8,279.4 76.8,282.0 79.4,283.9 81.3,285.9 83.2,288.5 85.2,290.4 87.7,297.2 90.3,301.5 92.8,303.5 98.2,310.0 105.0,315.5 111.8,318.2 115.9,320.9 118.7,322.5" fill="none" stroke="#40e6aa" stroke-width="1.4" stroke-linejoin="round"/>
<polyline points="22.6,248.0 27.2,251.6 37.5,256.8 43.9,259.4 47.8,267.1 53.0,272.3 58.1,276.1 63.3,280.0 68.5,285.2 73.6,289.0 76.5,292.0 80.8,295.5 84.2,299.8 87.7,304.9 90.3,308.4 95.5,312.8 102.3,318.2 106.4,322.5" fill="none" stroke="#4040f0" stroke-width="1.4" stroke-linejoin="round" stroke-dasharray="3.5,3.2" stroke-dashoffset="5.2"/>
<polyline points="22.6,235.0 28.0,241.0 32.3,246.5 37.5,251.6 43.0,258.0 50.0,268.0 54.3,274.8 60.7,280.0 67.2,285.0 72.2,288.6 74.8,292.9 77.4,298.1 82.5,301.5 85.1,305.8 87.7,311.8 91.1,315.3 99.6,319.6 105.0,322.5" fill="none" stroke="#f8607e" stroke-width="1.4" stroke-linejoin="round" stroke-dasharray="3.5,3.2" stroke-dashoffset="3.9"/>
<polyline points="22.6,239.2 25.9,239.2 25.9,260.6 31.0,260.6 32.3,265.8 37.5,267.1 38.8,269.7 47.8,273.5 54.3,276.1 60.2,280.0 66.2,282.6 69.6,285.2 72.2,290.3 74.8,295.5 77.4,299.8 80.8,300.6 82.5,304.1 85.1,308.4 87.7,314.4 90.3,318.7 92.8,322.5" fill="none" stroke="#8e8eff" stroke-width="1.4" stroke-linejoin="round"/>
<polyline points="22.6,252.3 34.9,255.5 38.8,259.4 45.2,265.8 50.4,272.3 55.0,280.5 60.2,283.4 64.5,287.7 69.6,290.3 73.1,294.6 74.8,299.8 76.5,304.9 79.9,310.1 82.5,314.4 85.1,319.6 87.0,322.5" fill="none" stroke="#383838" stroke-width="1.4" stroke-linejoin="round" stroke-dasharray="3.5,3.2" stroke-dashoffset="4.5"/>
<polyline points="22.6,251.6 29.7,252.9 34.9,258.1 38.8,261.9 41.4,269.7 46.5,274.8 50.4,280.0 55.0,285.2 59.3,288.6 61.9,292.9 65.3,297.2 67.9,302.4 70.5,306.7 73.1,312.7 76.5,317.0 79.1,320.4 80.8,322.6" fill="none" stroke="#2f9e3c" stroke-width="1.4" stroke-linejoin="round"/>
<path d="M22.60 194.60V323.20H185.90" fill="none" stroke="#9a9a9a" stroke-width="1"/><line x1="22.60" y1="323.20" x2="22.60" y2="322.00" stroke="#9a9a9a" stroke-width="0.6"/><line x1="29.14" y1="323.20" x2="29.14" y2="322.00" stroke="#9a9a9a" stroke-width="0.6"/><line x1="33.78" y1="323.20" x2="33.78" y2="322.00" stroke="#9a9a9a" stroke-width="0.6"/><line x1="37.38" y1="323.20" x2="37.38" y2="322.00" stroke="#9a9a9a" stroke-width="0.6"/><line x1="40.32" y1="323.20" x2="40.32" y2="322.00" stroke="#9a9a9a" stroke-width="0.6"/><line x1="42.80" y1="323.20" x2="42.80" y2="322.00" stroke="#9a9a9a" stroke-width="0.6"/><line x1="44.95" y1="323.20" x2="44.95" y2="322.00" stroke="#9a9a9a" stroke-width="0.6"/><line x1="46.85" y1="323.20" x2="46.85" y2="322.00" stroke="#9a9a9a" stroke-width="0.6"/><line x1="48.55" y1="323.20" x2="48.55" y2="321.20" stroke="#9a9a9a" stroke-width="0.6"/><line x1="59.73" y1="323.20" x2="59.73" y2="322.00" stroke="#9a9a9a" stroke-width="0.6"/><line x1="66.27" y1="323.20" x2="66.27" y2="322.00" stroke="#9a9a9a" stroke-width="0.6"/><line x1="70.91" y1="323.20" x2="70.91" y2="322.00" stroke="#9a9a9a" stroke-width="0.6"/><line x1="74.51" y1="323.20" x2="74.51" y2="322.00" stroke="#9a9a9a" stroke-width="0.6"/><line x1="77.45" y1="323.20" x2="77.45" y2="322.00" stroke="#9a9a9a" stroke-width="0.6"/><line x1="79.93" y1="323.20" x2="79.93" y2="322.00" stroke="#9a9a9a" stroke-width="0.6"/><line x1="82.08" y1="323.20" x2="82.08" y2="322.00" stroke="#9a9a9a" stroke-width="0.6"/><line x1="83.98" y1="323.20" x2="83.98" y2="322.00" stroke="#9a9a9a" stroke-width="0.6"/><line x1="85.68" y1="323.20" x2="85.68" y2="321.20" stroke="#9a9a9a" stroke-width="0.6"/><line x1="96.86" y1="323.20" x2="96.86" y2="322.00" stroke="#9a9a9a" stroke-width="0.6"/><line x1="103.40" y1="323.20" x2="103.40" y2="322.00" stroke="#9a9a9a" stroke-width="0.6"/><line x1="108.04" y1="323.20" x2="108.04" y2="322.00" stroke="#9a9a9a" stroke-width="0.6"/><line x1="111.64" y1="323.20" x2="111.64" y2="322.00" stroke="#9a9a9a" stroke-width="0.6"/><line x1="114.58" y1="323.20" x2="114.58" y2="322.00" stroke="#9a9a9a" stroke-width="0.6"/><line x1="117.06" y1="323.20" x2="117.06" y2="322.00" stroke="#9a9a9a" stroke-width="0.6"/><line x1="119.21" y1="323.20" x2="119.21" y2="322.00" stroke="#9a9a9a" stroke-width="0.6"/><line x1="121.11" y1="323.20" x2="121.11" y2="322.00" stroke="#9a9a9a" stroke-width="0.6"/><line x1="122.81" y1="323.20" x2="122.81" y2="321.20" stroke="#9a9a9a" stroke-width="0.6"/><line x1="133.99" y1="323.20" x2="133.99" y2="322.00" stroke="#9a9a9a" stroke-width="0.6"/><line x1="140.53" y1="323.20" x2="140.53" y2="322.00" stroke="#9a9a9a" stroke-width="0.6"/><line x1="145.17" y1="323.20" x2="145.17" y2="322.00" stroke="#9a9a9a" stroke-width="0.6"/><line x1="148.77" y1="323.20" x2="148.77" y2="322.00" stroke="#9a9a9a" stroke-width="0.6"/><line x1="151.71" y1="323.20" x2="151.71" y2="322.00" stroke="#9a9a9a" stroke-width="0.6"/><line x1="154.19" y1="323.20" x2="154.19" y2="322.00" stroke="#9a9a9a" stroke-width="0.6"/><line x1="156.34" y1="323.20" x2="156.34" y2="322.00" stroke="#9a9a9a" stroke-width="0.6"/><line x1="158.24" y1="323.20" x2="158.24" y2="322.00" stroke="#9a9a9a" stroke-width="0.6"/><line x1="159.94" y1="323.20" x2="159.94" y2="321.20" stroke="#9a9a9a" stroke-width="0.6"/><line x1="171.12" y1="323.20" x2="171.12" y2="322.00" stroke="#9a9a9a" stroke-width="0.6"/><line x1="177.66" y1="323.20" x2="177.66" y2="322.00" stroke="#9a9a9a" stroke-width="0.6"/><line x1="182.30" y1="323.20" x2="182.30" y2="322.00" stroke="#9a9a9a" stroke-width="0.6"/><line x1="185.90" y1="323.20" x2="185.90" y2="322.00" stroke="#9a9a9a" stroke-width="0.6"/><line x1="22.60" y1="317.76" x2="23.80" y2="317.76" stroke="#9a9a9a" stroke-width="0.6"/><line x1="22.60" y1="309.22" x2="24.60" y2="309.22" stroke="#9a9a9a" stroke-width="0.6"/><line x1="22.60" y1="302.24" x2="23.80" y2="302.24" stroke="#9a9a9a" stroke-width="0.6"/><line x1="22.60" y1="296.35" x2="23.80" y2="296.35" stroke="#9a9a9a" stroke-width="0.6"/><line x1="22.60" y1="291.24" x2="23.80" y2="291.24" stroke="#9a9a9a" stroke-width="0.6"/><line x1="22.60" y1="286.73" x2="23.80" y2="286.73" stroke="#9a9a9a" stroke-width="0.6"/><line x1="22.60" y1="282.70" x2="24.60" y2="282.70" stroke="#9a9a9a" stroke-width="0.6"/><line x1="22.60" y1="256.18" x2="24.60" y2="256.18" stroke="#9a9a9a" stroke-width="0.6"/><line x1="22.60" y1="240.67" x2="24.60" y2="240.67" stroke="#9a9a9a" stroke-width="0.6"/><line x1="22.60" y1="229.66" x2="24.60" y2="229.66" stroke="#9a9a9a" stroke-width="0.6"/><line x1="22.60" y1="221.12" x2="24.60" y2="221.12" stroke="#9a9a9a" stroke-width="0.6"/><line x1="22.60" y1="214.14" x2="23.80" y2="214.14" stroke="#9a9a9a" stroke-width="0.6"/><line x1="22.60" y1="211.68" x2="24.60" y2="211.68" stroke="#9a9a9a" stroke-width="0.6"/><line x1="22.60" y1="208.25" x2="23.80" y2="208.25" stroke="#9a9a9a" stroke-width="0.6"/><line x1="22.60" y1="203.14" x2="24.60" y2="203.14" stroke="#9a9a9a" stroke-width="0.6"/><line x1="22.60" y1="198.63" x2="23.80" y2="198.63" stroke="#9a9a9a" stroke-width="0.6"/><line x1="22.60" y1="194.60" x2="24.60" y2="194.60" stroke="#9a9a9a" stroke-width="0.6"/>
<text x="20.40" y="196.90" text-anchor="end" font-family="Liberation Sans" font-size="4.85" fill="#555">1</text><text x="20.40" y="205.44" text-anchor="end" font-family="Liberation Sans" font-size="4.85" fill="#555">0.80</text><text x="20.40" y="213.98" text-anchor="end" font-family="Liberation Sans" font-size="4.85" fill="#555">0.64</text><text x="20.40" y="223.42" text-anchor="end" font-family="Liberation Sans" font-size="4.85" fill="#555">0.50</text><text x="20.40" y="231.96" text-anchor="end" font-family="Liberation Sans" font-size="4.85" fill="#555">0.40</text><text x="20.40" y="242.97" text-anchor="end" font-family="Liberation Sans" font-size="4.85" fill="#555">0.30</text><text x="20.40" y="258.48" text-anchor="end" font-family="Liberation Sans" font-size="4.85" fill="#555">0.20</text><text x="20.40" y="285.00" text-anchor="end" font-family="Liberation Sans" font-size="4.85" fill="#555">0.10</text><text x="20.40" y="311.52" text-anchor="end" font-family="Liberation Sans" font-size="4.85" fill="#555">0.05</text><text x="47.95" y="331.80" text-anchor="middle" font-family="Liberation Sans" font-size="5" fill="#555">10<tspan font-size="3.5" dy="-2.4">-2</tspan></text><text x="85.08" y="331.80" text-anchor="middle" font-family="Liberation Sans" font-size="5" fill="#555">10<tspan font-size="3.5" dy="-2.4">-1</tspan></text><text x="122.21" y="331.80" text-anchor="middle" font-family="Liberation Sans" font-size="5" fill="#555">10<tspan font-size="3.5" dy="-2.4">0</tspan></text><text x="159.34" y="331.80" text-anchor="middle" font-family="Liberation Sans" font-size="5" fill="#555">10<tspan font-size="3.5" dy="-2.4">1</tspan></text><text x="104.25" y="338.70" text-anchor="middle" font-family="Liberation Serif" font-size="5.4" fill="#444">false positives per image</text><text transform="translate(8.40,258.90) rotate(-90)" text-anchor="middle" font-family="Liberation Serif" font-size="5.4" fill="#444">miss rate</text>
<rect x="102.30" y="196.60" width="77.50" height="80.60" fill="#fff" stroke="#a0a0a0" stroke-width="0.8"/><line x1="104.90" y1="200.80" x2="120.80" y2="200.80" stroke="#72ec24" stroke-width="1.25"/><text transform="translate(122.60,202.65) scale(0.93,1)" font-family="Liberation Serif" font-size="5.5" fill="#383838">51.73% ACF+C+T</text><line x1="104.90" y1="206.90" x2="120.80" y2="206.90" stroke="#58c030" stroke-width="1.25"/><text transform="translate(122.60,208.75) scale(0.93,1)" font-family="Liberation Serif" font-size="5.5" fill="#383838">19.57% Halfway Fusion</text><line x1="105.30" y1="213.00" x2="116.60" y2="213.00" stroke="#cc3a6a" stroke-width="1.3" stroke-dasharray="3.9,3.5"/><text transform="translate(122.60,214.85) scale(0.93,1)" font-family="Liberation Serif" font-size="5.5" fill="#383838">15.80% IAF-RCNN</text><line x1="104.90" y1="219.10" x2="120.80" y2="219.10" stroke="#22a688" stroke-width="1.25"/><text transform="translate(122.60,220.95) scale(0.93,1)" font-family="Liberation Serif" font-size="5.5" fill="#383838">13.91% IATDNN+IAMSS</text><line x1="104.90" y1="225.20" x2="120.80" y2="225.20" stroke="#c2c2ff" stroke-width="1.25"/><text transform="translate(122.60,227.05) scale(0.93,1)" font-family="Liberation Serif" font-size="5.5" fill="#383838">13.29% Fusion RPN+BDT</text><line x1="105.30" y1="231.30" x2="116.60" y2="231.30" stroke="#ff3030" stroke-width="1.3" stroke-dasharray="3.9,3.5"/><text transform="translate(122.60,233.15) scale(0.93,1)" font-family="Liberation Serif" font-size="5.5" fill="#383838">10.72% MSDS-RCNN(org)</text><line x1="105.30" y1="237.40" x2="116.60" y2="237.40" stroke="#7a44ee" stroke-width="1.3" stroke-dasharray="3.9,3.5"/><text transform="translate(122.60,239.25) scale(0.93,1)" font-family="Liberation Serif" font-size="5.5" fill="#383838">10.26% CIAN</text><line x1="104.90" y1="243.50" x2="120.80" y2="243.50" stroke="#40e6aa" stroke-width="1.25"/><text transform="translate(122.60,245.35) scale(0.93,1)" font-family="Liberation Serif" font-size="5.5" fill="#383838">7.92% ARCNN</text><line x1="105.30" y1="249.60" x2="116.60" y2="249.60" stroke="#4040f0" stroke-width="1.3" stroke-dasharray="3.9,3.5"/><text transform="translate(122.60,251.45) scale(0.93,1)" font-family="Liberation Serif" font-size="5.5" fill="#383838">6.37% MBNet</text><line x1="105.30" y1="255.70" x2="116.60" y2="255.70" stroke="#f8607e" stroke-width="1.3" stroke-dasharray="3.9,3.5"/><text transform="translate(122.60,257.55) scale(0.93,1)" font-family="Liberation Serif" font-size="5.5" fill="#383838">5.60% AFSS</text><line x1="104.90" y1="261.80" x2="120.80" y2="261.80" stroke="#8e8eff" stroke-width="1.25"/><text transform="translate(122.60,263.65) scale(0.93,1)" font-family="Liberation Serif" font-size="5.5" fill="#383838">5.41% MSDS(sanitized)</text><line x1="105.30" y1="267.90" x2="116.60" y2="267.90" stroke="#383838" stroke-width="1.3" stroke-dasharray="3.9,3.5"/><text transform="translate(122.60,269.75) scale(0.93,1)" font-family="Liberation Serif" font-size="5.5" fill="#383838">3.59% FusionCSPNet</text><line x1="104.90" y1="274.00" x2="120.80" y2="274.00" stroke="#2f9e3c" stroke-width="1.25"/><text transform="translate(122.60,275.85) scale(0.93,1)" font-family="Liberation Serif" font-size="5.5" fill="#383838">2.90% Ours</text>
<text x="46.00" y="355.30" font-family="Liberation Serif" font-size="11.2" fill="#1a1a1a" stroke="#1a1a1a" stroke-width="0.22">(c)<tspan dx="1.0"> Reasonable nighttime</tspan></text>
<line x1="322.75" y1="194.40" x2="322.75" y2="323.00" stroke="#ebebeb" stroke-width="0.6"/><line x1="359.88" y1="194.40" x2="359.88" y2="323.00" stroke="#ebebeb" stroke-width="0.6"/><line x1="397.01" y1="194.40" x2="397.01" y2="323.00" stroke="#ebebeb" stroke-width="0.6"/><line x1="434.14" y1="194.40" x2="434.14" y2="323.00" stroke="#ebebeb" stroke-width="0.6"/><line x1="296.80" y1="202.94" x2="460.10" y2="202.94" stroke="#ebebeb" stroke-width="0.6"/><line x1="296.80" y1="211.48" x2="460.10" y2="211.48" stroke="#ebebeb" stroke-width="0.6"/><line x1="296.80" y1="220.92" x2="460.10" y2="220.92" stroke="#ebebeb" stroke-width="0.6"/><line x1="296.80" y1="229.46" x2="460.10" y2="229.46" stroke="#ebebeb" stroke-width="0.6"/><line x1="296.80" y1="240.47" x2="460.10" y2="240.47" stroke="#ebebeb" stroke-width="0.6"/><line x1="296.80" y1="255.98" x2="460.10" y2="255.98" stroke="#ebebeb" stroke-width="0.6"/><line x1="296.80" y1="282.50" x2="460.10" y2="282.50" stroke="#ebebeb" stroke-width="0.6"/><line x1="296.80" y1="309.02" x2="460.10" y2="309.02" stroke="#ebebeb" stroke-width="0.6"/><path d="M296.80 194.40H460.10V323.00" fill="none" stroke="#ececec" stroke-width="0.7"/>
<polyline points="297.0,197.2 308.9,198.2 315.4,198.8 326.0,200.1 334.7,202.5 340.0,203.2 352.9,206.6 365.8,211.8 378.7,216.9 391.6,222.1 400.0,225.3 410.0,228.8 422.0,233.0 441.0,238.8 459.6,243.4" fill="none" stroke="#72ec24" stroke-width="1.55" stroke-linejoin="round"/>
<polyline points="297.3,198.2 302.5,202.0 308.9,205.3 315.4,207.2 321.8,207.8 328.3,209.8 334.7,212.4 340.0,213.1 350.3,216.9 359.4,220.8 369.7,224.7 378.7,228.5 389.0,232.4 400.0,236.3 403.1,238.7 410.5,243.4" fill="none" stroke="#22a688" stroke-width="1.4" stroke-linejoin="round"/>
<polyline points="297.3,203.3 303.7,204.6 310.0,207.0 321.8,211.1 334.7,214.9 345.0,217.5 359.4,219.5 372.3,223.4 385.2,228.5 400.0,233.7 403.1,235.0 416.2,240.6 427.4,246.2 431.1,248.1" fill="none" stroke="#c2c2ff" stroke-width="1.4" stroke-linejoin="round"/>
<polyline points="297.3,199.5 308.9,203.3 321.8,204.6 328.3,207.2 334.7,211.1 340.0,214.4 350.3,219.5 359.4,223.4 369.7,228.5 378.7,233.7 382.5,235.0 389.0,237.6 400.0,241.5 403.1,242.5 418.0,248.1 431.1,249.0 453.6,250.0" fill="none" stroke="#58c030" stroke-width="1.4" stroke-linejoin="round"/>
<polyline points="297.0,199.5 308.9,203.3 315.4,205.9 321.8,208.5 328.3,211.1 334.7,212.4 340.0,216.9 350.3,220.8 359.4,224.7 369.7,229.8 378.7,233.7 389.0,237.6 399.3,239.7 412.4,240.6 431.1,240.6 444.2,240.2" fill="none" stroke="#cc3a6a" stroke-width="1.4" stroke-linejoin="round" stroke-dasharray="3.5,3.2" stroke-dashoffset="0"/>
<polyline points="297.3,204.6 299.9,205.9 304.4,207.8 308.9,207.8 315.4,209.8 321.8,211.7 326.0,213.0 328.3,216.2 334.7,218.8 341.2,222.7 347.6,226.5 356.0,229.1 365.0,235.0 375.0,245.0 382.5,251.8 388.0,256.0 393.7,259.8 401.5,264.7 407.9,267.9 414.4,271.1 420.8,274.4 427.3,276.9 433.7,278.9 440.2,280.2 446.6,281.5 453.1,282.7 460.0,284.0" fill="none" stroke="#7a44ee" stroke-width="1.4" stroke-linejoin="round" stroke-dasharray="3.5,3.2" stroke-dashoffset="1.3"/>
<polyline points="297.0,205.0 305.0,209.0 315.0,213.0 325.0,217.0 335.0,221.0 345.0,226.0 356.0,231.0 366.0,238.0 376.0,248.0 386.2,255.6 397.5,266.8 406.8,278.0 416.2,289.3 427.4,298.6 436.7,306.1 446.1,313.6 457.3,318.3 460.0,319.0" fill="none" stroke="#f8607e" stroke-width="1.4" stroke-linejoin="round" stroke-dasharray="3.5,3.2" stroke-dashoffset="3.9"/>
<polyline points="297.3,209.8 301.2,211.1 306.3,214.9 312.8,217.5 321.8,221.4 329.5,224.0 337.3,226.5 345.0,229.1 352.8,233.0 365.0,240.0 375.0,244.4 378.7,244.2 393.7,247.2 412.4,248.1 431.1,249.0 453.6,249.6" fill="none" stroke="#40e6aa" stroke-width="1.4" stroke-linejoin="round"/>
<polyline points="297.0,207.0 302.5,209.8 308.9,212.4 315.4,213.6 321.8,217.5 328.3,218.8 334.7,221.4 341.2,225.3 347.6,227.8 356.0,230.4 365.0,236.0 375.0,247.0 378.7,247.9 390.0,249.0 406.8,250.0 419.9,250.9" fill="none" stroke="#ff3030" stroke-width="1.4" stroke-linejoin="round" stroke-dasharray="3.5,3.2" stroke-dashoffset="2.6"/>
<polyline points="297.3,208.5 308.9,213.6 315.4,216.2 321.8,218.8 328.3,222.7 334.7,225.3 341.2,226.5 347.6,230.4 356.0,234.3 366.0,242.0 375.0,252.8 393.7,253.7 412.4,256.5 427.4,259.3" fill="none" stroke="#8e8eff" stroke-width="1.4" stroke-linejoin="round"/>
<polyline points="297.0,208.0 299.9,208.5 308.9,211.1 321.8,216.2 328.3,218.8 334.7,222.7 341.2,225.3 347.6,229.1 356.0,233.0 365.0,240.0 375.0,252.0 380.6,259.3 390.0,268.7 399.3,276.2 406.8,283.6 414.3,289.3" fill="none" stroke="#4040f0" stroke-width="1.4" stroke-linejoin="round" stroke-dasharray="3.5,3.2" stroke-dashoffset="5.2"/>
<polyline points="297.3,206.9 299.9,207.2 302.5,209.1 305.7,210.4 308.9,212.4 312.8,213.6 316.6,214.9 320.5,216.9 324.4,218.8 328.3,224.0 332.1,227.8 337.3,230.4 341.2,233.0 345.0,235.6 360.0,250.0 375.0,270.0 382.5,278.0 390.0,287.4 399.3,296.7 408.7,306.1 418.0,313.6 425.5,319.2 431.1,322.9" fill="none" stroke="#383838" stroke-width="1.4" stroke-linejoin="round" stroke-dasharray="3.5,3.2" stroke-dashoffset="4.5"/>
<polyline points="297.3,210.4 298.6,211.7 298.6,216.2 301.2,217.5 305.7,218.2 308.9,219.5 310.2,221.4 312.1,223.0 319.2,224.0 327.0,227.8 333.4,231.7 339.9,234.3 347.6,236.9 354.1,240.7 365.0,255.0 378.7,270.5 386.2,281.8 393.7,291.1 399.3,298.6 404.9,308.0 410.5,319.2 412.4,323.0" fill="none" stroke="#2f9e3c" stroke-width="1.4" stroke-linejoin="round"/>
<path d="M296.80 194.40V323.00H460.10" fill="none" stroke="#9a9a9a" stroke-width="1"/><line x1="296.80" y1="323.00" x2="296.80" y2="321.80" stroke="#9a9a9a" stroke-width="0.6"/><line x1="303.34" y1="323.00" x2="303.34" y2="321.80" stroke="#9a9a9a" stroke-width="0.6"/><line x1="307.98" y1="323.00" x2="307.98" y2="321.80" stroke="#9a9a9a" stroke-width="0.6"/><line x1="311.58" y1="323.00" x2="311.58" y2="321.80" stroke="#9a9a9a" stroke-width="0.6"/><line x1="314.52" y1="323.00" x2="314.52" y2="321.80" stroke="#9a9a9a" stroke-width="0.6"/><line x1="317.00" y1="323.00" x2="317.00" y2="321.80" stroke="#9a9a9a" stroke-width="0.6"/><line x1="319.15" y1="323.00" x2="319.15" y2="321.80" stroke="#9a9a9a" stroke-width="0.6"/><line x1="321.05" y1="323.00" x2="321.05" y2="321.80" stroke="#9a9a9a" stroke-width="0.6"/><line x1="322.75" y1="323.00" x2="322.75" y2="321.00" stroke="#9a9a9a" stroke-width="0.6"/><line x1="333.93" y1="323.00" x2="333.93" y2="321.80" stroke="#9a9a9a" stroke-width="0.6"/><line x1="340.47" y1="323.00" x2="340.47" y2="321.80" stroke="#9a9a9a" stroke-width="0.6"/><line x1="345.11" y1="323.00" x2="345.11" y2="321.80" stroke="#9a9a9a" stroke-width="0.6"/><line x1="348.71" y1="323.00" x2="348.71" y2="321.80" stroke="#9a9a9a" stroke-width="0.6"/><line x1="351.65" y1="323.00" x2="351.65" y2="321.80" stroke="#9a9a9a" stroke-width="0.6"/><line x1="354.13" y1="323.00" x2="354.13" y2="321.80" stroke="#9a9a9a" stroke-width="0.6"/><line x1="356.28" y1="323.00" x2="356.28" y2="321.80" stroke="#9a9a9a" stroke-width="0.6"/><line x1="358.18" y1="323.00" x2="358.18" y2="321.80" stroke="#9a9a9a" stroke-width="0.6"/><line x1="359.88" y1="323.00" x2="359.88" y2="321.00" stroke="#9a9a9a" stroke-width="0.6"/><line x1="371.06" y1="323.00" x2="371.06" y2="321.80" stroke="#9a9a9a" stroke-width="0.6"/><line x1="377.60" y1="323.00" x2="377.60" y2="321.80" stroke="#9a9a9a" stroke-width="0.6"/><line x1="382.24" y1="323.00" x2="382.24" y2="321.80" stroke="#9a9a9a" stroke-width="0.6"/><line x1="385.84" y1="323.00" x2="385.84" y2="321.80" stroke="#9a9a9a" stroke-width="0.6"/><line x1="388.78" y1="323.00" x2="388.78" y2="321.80" stroke="#9a9a9a" stroke-width="0.6"/><line x1="391.26" y1="323.00" x2="391.26" y2="321.80" stroke="#9a9a9a" stroke-width="0.6"/><line x1="393.41" y1="323.00" x2="393.41" y2="321.80" stroke="#9a9a9a" stroke-width="0.6"/><line x1="395.31" y1="323.00" x2="395.31" y2="321.80" stroke="#9a9a9a" stroke-width="0.6"/><line x1="397.01" y1="323.00" x2="397.01" y2="321.00" stroke="#9a9a9a" stroke-width="0.6"/><line x1="408.19" y1="323.00" x2="408.19" y2="321.80" stroke="#9a9a9a" stroke-width="0.6"/><line x1="414.73" y1="323.00" x2="414.73" y2="321.80" stroke="#9a9a9a" stroke-width="0.6"/><line x1="419.37" y1="323.00" x2="419.37" y2="321.80" stroke="#9a9a9a" stroke-width="0.6"/><line x1="422.97" y1="323.00" x2="422.97" y2="321.80" stroke="#9a9a9a" stroke-width="0.6"/><line x1="425.91" y1="323.00" x2="425.91" y2="321.80" stroke="#9a9a9a" stroke-width="0.6"/><line x1="428.39" y1="323.00" x2="428.39" y2="321.80" stroke="#9a9a9a" stroke-width="0.6"/><line x1="430.54" y1="323.00" x2="430.54" y2="321.80" stroke="#9a9a9a" stroke-width="0.6"/><line x1="432.44" y1="323.00" x2="432.44" y2="321.80" stroke="#9a9a9a" stroke-width="0.6"/><line x1="434.14" y1="323.00" x2="434.14" y2="321.00" stroke="#9a9a9a" stroke-width="0.6"/><line x1="445.32" y1="323.00" x2="445.32" y2="321.80" stroke="#9a9a9a" stroke-width="0.6"/><line x1="451.86" y1="323.00" x2="451.86" y2="321.80" stroke="#9a9a9a" stroke-width="0.6"/><line x1="456.50" y1="323.00" x2="456.50" y2="321.80" stroke="#9a9a9a" stroke-width="0.6"/><line x1="460.10" y1="323.00" x2="460.10" y2="321.80" stroke="#9a9a9a" stroke-width="0.6"/><line x1="296.80" y1="317.56" x2="298.00" y2="317.56" stroke="#9a9a9a" stroke-width="0.6"/><line x1="296.80" y1="309.02" x2="298.80" y2="309.02" stroke="#9a9a9a" stroke-width="0.6"/><line x1="296.80" y1="302.04" x2="298.00" y2="302.04" stroke="#9a9a9a" stroke-width="0.6"/><line x1="296.80" y1="296.15" x2="298.00" y2="296.15" stroke="#9a9a9a" stroke-width="0.6"/><line x1="296.80" y1="291.04" x2="298.00" y2="291.04" stroke="#9a9a9a" stroke-width="0.6"/><line x1="296.80" y1="286.53" x2="298.00" y2="286.53" stroke="#9a9a9a" stroke-width="0.6"/><line x1="296.80" y1="282.50" x2="298.80" y2="282.50" stroke="#9a9a9a" stroke-width="0.6"/><line x1="296.80" y1="255.98" x2="298.80" y2="255.98" stroke="#9a9a9a" stroke-width="0.6"/><line x1="296.80" y1="240.47" x2="298.80" y2="240.47" stroke="#9a9a9a" stroke-width="0.6"/><line x1="296.80" y1="229.46" x2="298.80" y2="229.46" stroke="#9a9a9a" stroke-width="0.6"/><line x1="296.80" y1="220.92" x2="298.80" y2="220.92" stroke="#9a9a9a" stroke-width="0.6"/><line x1="296.80" y1="213.94" x2="298.00" y2="213.94" stroke="#9a9a9a" stroke-width="0.6"/><line x1="296.80" y1="211.48" x2="298.80" y2="211.48" stroke="#9a9a9a" stroke-width="0.6"/><line x1="296.80" y1="208.05" x2="298.00" y2="208.05" stroke="#9a9a9a" stroke-width="0.6"/><line x1="296.80" y1="202.94" x2="298.80" y2="202.94" stroke="#9a9a9a" stroke-width="0.6"/><line x1="296.80" y1="198.43" x2="298.00" y2="198.43" stroke="#9a9a9a" stroke-width="0.6"/><line x1="296.80" y1="194.40" x2="298.80" y2="194.40" stroke="#9a9a9a" stroke-width="0.6"/>
<text x="294.60" y="196.70" text-anchor="end" font-family="Liberation Sans" font-size="4.85" fill="#555">1</text><text x="294.60" y="205.24" text-anchor="end" font-family="Liberation Sans" font-size="4.85" fill="#555">0.80</text><text x="294.60" y="213.78" text-anchor="end" font-family="Liberation Sans" font-size="4.85" fill="#555">0.64</text><text x="294.60" y="223.22" text-anchor="end" font-family="Liberation Sans" font-size="4.85" fill="#555">0.50</text><text x="294.60" y="231.76" text-anchor="end" font-family="Liberation Sans" font-size="4.85" fill="#555">0.40</text><text x="294.60" y="242.77" text-anchor="end" font-family="Liberation Sans" font-size="4.85" fill="#555">0.30</text><text x="294.60" y="258.28" text-anchor="end" font-family="Liberation Sans" font-size="4.85" fill="#555">0.20</text><text x="294.60" y="284.80" text-anchor="end" font-family="Liberation Sans" font-size="4.85" fill="#555">0.10</text><text x="294.60" y="311.32" text-anchor="end" font-family="Liberation Sans" font-size="4.85" fill="#555">0.05</text><text x="322.15" y="331.60" text-anchor="middle" font-family="Liberation Sans" font-size="5" fill="#555">10<tspan font-size="3.5" dy="-2.4">-2</tspan></text><text x="359.28" y="331.60" text-anchor="middle" font-family="Liberation Sans" font-size="5" fill="#555">10<tspan font-size="3.5" dy="-2.4">-1</tspan></text><text x="396.41" y="331.60" text-anchor="middle" font-family="Liberation Sans" font-size="5" fill="#555">10<tspan font-size="3.5" dy="-2.4">0</tspan></text><text x="433.54" y="331.60" text-anchor="middle" font-family="Liberation Sans" font-size="5" fill="#555">10<tspan font-size="3.5" dy="-2.4">1</tspan></text><text x="378.45" y="338.50" text-anchor="middle" font-family="Liberation Serif" font-size="5.4" fill="#444">false positives per image</text><text transform="translate(282.60,258.70) rotate(-90)" text-anchor="middle" font-family="Liberation Serif" font-size="5.4" fill="#444">miss rate</text>
<rect x="302.20" y="237.20" width="77.00" height="80.60" fill="#fff" stroke="#a0a0a0" stroke-width="0.8"/><line x1="304.80" y1="241.40" x2="320.70" y2="241.40" stroke="#72ec24" stroke-width="1.25"/><text transform="translate(322.50,243.25) scale(0.93,1)" font-family="Liberation Serif" font-size="5.5" fill="#383838">66.01% ACF+C+T</text><line x1="304.80" y1="247.50" x2="320.70" y2="247.50" stroke="#22a688" stroke-width="1.25"/><text transform="translate(322.50,249.35) scale(0.93,1)" font-family="Liberation Serif" font-size="5.5" fill="#383838">48.96% IATDNN+IAMSS</text><line x1="304.80" y1="253.60" x2="320.70" y2="253.60" stroke="#c2c2ff" stroke-width="1.25"/><text transform="translate(322.50,255.45) scale(0.93,1)" font-family="Liberation Serif" font-size="5.5" fill="#383838">48.86% Fusion RPN+BDT</text><line x1="304.80" y1="259.70" x2="320.70" y2="259.70" stroke="#58c030" stroke-width="1.25"/><text transform="translate(322.50,261.55) scale(0.93,1)" font-family="Liberation Serif" font-size="5.5" fill="#383838">46.52% Halfway Fusion</text><line x1="305.20" y1="265.80" x2="316.50" y2="265.80" stroke="#cc3a6a" stroke-width="1.3" stroke-dasharray="3.9,3.5"/><text transform="translate(322.50,267.65) scale(0.93,1)" font-family="Liberation Serif" font-size="5.5" fill="#383838">44.61% IAF-RCNN</text><line x1="305.20" y1="271.90" x2="316.50" y2="271.90" stroke="#7a44ee" stroke-width="1.3" stroke-dasharray="3.9,3.5"/><text transform="translate(322.50,273.75) scale(0.93,1)" font-family="Liberation Serif" font-size="5.5" fill="#383838">34.85% CIAN</text><line x1="305.20" y1="278.00" x2="316.50" y2="278.00" stroke="#f8607e" stroke-width="1.3" stroke-dasharray="3.9,3.5"/><text transform="translate(322.50,279.85) scale(0.93,1)" font-family="Liberation Serif" font-size="5.5" fill="#383838">33.82% AFSS</text><line x1="304.80" y1="284.10" x2="320.70" y2="284.10" stroke="#40e6aa" stroke-width="1.25"/><text transform="translate(322.50,285.95) scale(0.93,1)" font-family="Liberation Serif" font-size="5.5" fill="#383838">33.80% ARCNN</text><line x1="305.20" y1="290.20" x2="316.50" y2="290.20" stroke="#ff3030" stroke-width="1.3" stroke-dasharray="3.9,3.5"/><text transform="translate(322.50,292.05) scale(0.93,1)" font-family="Liberation Serif" font-size="5.5" fill="#383838">33.76% MSDS-RCNN(org)</text><line x1="304.80" y1="296.30" x2="320.70" y2="296.30" stroke="#8e8eff" stroke-width="1.25"/><text transform="translate(322.50,298.15) scale(0.93,1)" font-family="Liberation Serif" font-size="5.5" fill="#383838">30.46% MSDS(sanitized)</text><line x1="305.20" y1="302.40" x2="316.50" y2="302.40" stroke="#4040f0" stroke-width="1.3" stroke-dasharray="3.9,3.5"/><text transform="translate(322.50,304.25) scale(0.93,1)" font-family="Liberation Serif" font-size="5.5" fill="#383838">29.22% MBNet</text><line x1="305.20" y1="308.50" x2="316.50" y2="308.50" stroke="#383838" stroke-width="1.3" stroke-dasharray="3.9,3.5"/><text transform="translate(322.50,310.35) scale(0.93,1)" font-family="Liberation Serif" font-size="5.5" fill="#383838">21.08% FusionCSPNet</text><line x1="304.80" y1="314.60" x2="320.70" y2="314.60" stroke="#2f9e3c" stroke-width="1.25"/><text transform="translate(322.50,316.45) scale(0.93,1)" font-family="Liberation Serif" font-size="5.5" fill="#383838">20.64% Ours</text>
<text x="359.10" y="355.50" font-family="Liberation Serif" font-size="11.2" fill="#1a1a1a" stroke="#1a1a1a" stroke-width="0.22">(d)<tspan dx="1.0"> All</tspan></text>
<line x1="48.55" y1="383.50" x2="48.55" y2="512.10" stroke="#ebebeb" stroke-width="0.6"/><line x1="85.68" y1="383.50" x2="85.68" y2="512.10" stroke="#ebebeb" stroke-width="0.6"/><line x1="122.81" y1="383.50" x2="122.81" y2="512.10" stroke="#ebebeb" stroke-width="0.6"/><line x1="159.94" y1="383.50" x2="159.94" y2="512.10" stroke="#ebebeb" stroke-width="0.6"/><line x1="22.60" y1="392.04" x2="185.90" y2="392.04" stroke="#ebebeb" stroke-width="0.6"/><line x1="22.60" y1="400.58" x2="185.90" y2="400.58" stroke="#ebebeb" stroke-width="0.6"/><line x1="22.60" y1="410.02" x2="185.90" y2="410.02" stroke="#ebebeb" stroke-width="0.6"/><line x1="22.60" y1="418.56" x2="185.90" y2="418.56" stroke="#ebebeb" stroke-width="0.6"/><line x1="22.60" y1="429.57" x2="185.90" y2="429.57" stroke="#ebebeb" stroke-width="0.6"/><line x1="22.60" y1="445.08" x2="185.90" y2="445.08" stroke="#ebebeb" stroke-width="0.6"/><line x1="22.60" y1="471.60" x2="185.90" y2="471.60" stroke="#ebebeb" stroke-width="0.6"/><line x1="22.60" y1="498.12" x2="185.90" y2="498.12" stroke="#ebebeb" stroke-width="0.6"/><path d="M22.60 383.50H185.90V512.10" fill="none" stroke="#ececec" stroke-width="0.7"/>
<polyline points="22.6,386.3 34.9,387.2 43.5,389.0 50.0,389.3 62.9,391.9 75.8,395.1 88.7,399.0 101.6,404.1 110.0,408.0 115.4,410.2 135.7,418.3 156.1,426.5 172.4,432.6 186.0,436.6" fill="none" stroke="#72ec24" stroke-width="1.55" stroke-linejoin="round"/>
<polyline points="22.6,391.0 35.0,395.0 50.0,398.5 62.9,401.5 75.8,404.6 88.7,408.2 95.0,411.0 101.6,413.5 110.0,417.0 115.4,418.3 135.7,426.5 152.0,434.6 162.2,439.7 168.3,441.8" fill="none" stroke="#c2c2ff" stroke-width="1.4" stroke-linejoin="round"/>
<polyline points="22.6,390.6 32.3,392.3 41.4,394.3 50.0,397.0 62.9,400.9 75.8,404.1 88.7,409.0 95.0,412.0 101.6,415.0 107.2,418.3 119.4,424.4 129.6,430.5 135.7,434.6" fill="none" stroke="#22a688" stroke-width="1.4" stroke-linejoin="round"/>
<polyline points="22.6,389.1 29.7,392.3 38.8,393.0 47.8,394.3 51.7,394.9 53.0,398.8 60.7,401.4 68.5,403.9 75.8,407.4 88.7,412.5 95.0,417.0 101.6,419.5 111.3,424.5 127.6,432.6 143.9,437.7 156.1,441.8 180.5,443.4" fill="none" stroke="#58c030" stroke-width="1.4" stroke-linejoin="round"/>
<polyline points="22.6,391.7 43.5,398.1 50.0,399.6 62.9,403.5 75.8,408.6 88.7,415.1 95.0,420.4 99.0,421.5 107.2,426.5 119.4,430.5 131.7,432.6 145.9,433.0 166.3,433.0" fill="none" stroke="#cc3a6a" stroke-width="1.4" stroke-linejoin="round" stroke-dasharray="3.5,3.2" stroke-dashoffset="0"/>
<polyline points="22.6,395.0 40.0,402.0 55.0,408.0 65.0,412.0 75.0,416.0 85.0,424.0 95.0,432.0 105.0,437.0 109.3,440.7 121.5,453.0 131.7,467.2 139.8,481.5 150.0,491.6 160.2,501.8 168.3,510.0 169.0,512.0" fill="none" stroke="#f8607e" stroke-width="1.4" stroke-linejoin="round" stroke-dasharray="3.5,3.2" stroke-dashoffset="3.9"/>
<polyline points="22.6,394.0 35.0,399.0 50.0,403.5 62.9,407.4 75.8,412.5 88.7,420.3 101.6,428.0 105.2,436.7 119.4,446.8 135.7,457.0 156.1,467.2 172.4,473.3 186.0,477.6" fill="none" stroke="#7a44ee" stroke-width="1.4" stroke-linejoin="round" stroke-dasharray="3.5,3.2" stroke-dashoffset="1.3"/>
<polyline points="22.6,400.1 25.9,402.6 28.5,402.6 31.0,405.2 40.0,407.0 50.0,408.6 62.9,413.8 71.9,420.3 79.7,424.8 90.0,430.0 105.2,435.6 125.5,437.7 145.9,438.7 178.5,439.3" fill="none" stroke="#40e6aa" stroke-width="1.4" stroke-linejoin="round"/>
<polyline points="22.6,393.0 40.0,400.0 62.9,406.0 75.8,413.8 82.3,419.0 95.0,430.0 105.2,440.7 125.5,441.8 145.9,443.8" fill="none" stroke="#ff3030" stroke-width="1.4" stroke-linejoin="round" stroke-dasharray="3.5,3.2" stroke-dashoffset="2.6"/>
<polyline points="22.6,396.0 40.0,403.0 55.0,409.0 70.0,416.0 85.0,425.0 95.0,435.0 105.2,443.8 125.5,445.8 141.8,447.9 154.1,450.9" fill="none" stroke="#8e8eff" stroke-width="1.4" stroke-linejoin="round"/>
<polyline points="22.6,395.0 40.0,402.0 56.5,407.4 65.5,413.8 75.8,419.0 83.5,424.1 95.0,435.0 105.2,446.8 117.4,457.0 129.6,467.2 139.8,479.4 143.9,483.5" fill="none" stroke="#4040f0" stroke-width="1.4" stroke-linejoin="round" stroke-dasharray="3.5,3.2" stroke-dashoffset="5.2"/>
<polyline points="22.6,392.0 35.0,398.0 50.0,404.8 57.7,409.9 65.5,417.7 70.6,422.8 80.0,432.0 95.0,448.0 105.0,462.0 119.4,479.4 129.6,489.6 139.8,499.8 148.0,507.9 152.0,512.0" fill="none" stroke="#383838" stroke-width="1.4" stroke-linejoin="round" stroke-dasharray="3.5,3.2" stroke-dashoffset="4.5"/>
<polyline points="22.6,389.0 22.6,397.2 31.7,397.2 31.7,405.0 38.1,405.6 38.8,409.5 41.4,410.7 44.6,412.0 50.0,415.1 57.7,420.3 65.5,424.1 70.6,426.7 80.0,436.0 95.0,450.0 105.2,463.1 115.4,475.4 123.5,485.5 129.6,495.7 135.7,505.9 137.8,512.0" fill="none" stroke="#2f9e3c" stroke-width="1.4" stroke-linejoin="round"/>
<path d="M22.60 383.50V512.10H185.90" fill="none" stroke="#9a9a9a" stroke-width="1"/><line x1="22.60" y1="512.10" x2="22.60" y2="510.90" stroke="#9a9a9a" stroke-width="0.6"/><line x1="29.14" y1="512.10" x2="29.14" y2="510.90" stroke="#9a9a9a" stroke-width="0.6"/><line x1="33.78" y1="512.10" x2="33.78" y2="510.90" stroke="#9a9a9a" stroke-width="0.6"/><line x1="37.38" y1="512.10" x2="37.38" y2="510.90" stroke="#9a9a9a" stroke-width="0.6"/><line x1="40.32" y1="512.10" x2="40.32" y2="510.90" stroke="#9a9a9a" stroke-width="0.6"/><line x1="42.80" y1="512.10" x2="42.80" y2="510.90" stroke="#9a9a9a" stroke-width="0.6"/><line x1="44.95" y1="512.10" x2="44.95" y2="510.90" stroke="#9a9a9a" stroke-width="0.6"/><line x1="46.85" y1="512.10" x2="46.85" y2="510.90" stroke="#9a9a9a" stroke-width="0.6"/><line x1="48.55" y1="512.10" x2="48.55" y2="510.10" stroke="#9a9a9a" stroke-width="0.6"/><line x1="59.73" y1="512.10" x2="59.73" y2="510.90" stroke="#9a9a9a" stroke-width="0.6"/><line x1="66.27" y1="512.10" x2="66.27" y2="510.90" stroke="#9a9a9a" stroke-width="0.6"/><line x1="70.91" y1="512.10" x2="70.91" y2="510.90" stroke="#9a9a9a" stroke-width="0.6"/><line x1="74.51" y1="512.10" x2="74.51" y2="510.90" stroke="#9a9a9a" stroke-width="0.6"/><line x1="77.45" y1="512.10" x2="77.45" y2="510.90" stroke="#9a9a9a" stroke-width="0.6"/><line x1="79.93" y1="512.10" x2="79.93" y2="510.90" stroke="#9a9a9a" stroke-width="0.6"/><line x1="82.08" y1="512.10" x2="82.08" y2="510.90" stroke="#9a9a9a" stroke-width="0.6"/><line x1="83.98" y1="512.10" x2="83.98" y2="510.90" stroke="#9a9a9a" stroke-width="0.6"/><line x1="85.68" y1="512.10" x2="85.68" y2="510.10" stroke="#9a9a9a" stroke-width="0.6"/><line x1="96.86" y1="512.10" x2="96.86" y2="510.90" stroke="#9a9a9a" stroke-width="0.6"/><line x1="103.40" y1="512.10" x2="103.40" y2="510.90" stroke="#9a9a9a" stroke-width="0.6"/><line x1="108.04" y1="512.10" x2="108.04" y2="510.90" stroke="#9a9a9a" stroke-width="0.6"/><line x1="111.64" y1="512.10" x2="111.64" y2="510.90" stroke="#9a9a9a" stroke-width="0.6"/><line x1="114.58" y1="512.10" x2="114.58" y2="510.90" stroke="#9a9a9a" stroke-width="0.6"/><line x1="117.06" y1="512.10" x2="117.06" y2="510.90" stroke="#9a9a9a" stroke-width="0.6"/><line x1="119.21" y1="512.10" x2="119.21" y2="510.90" stroke="#9a9a9a" stroke-width="0.6"/><line x1="121.11" y1="512.10" x2="121.11" y2="510.90" stroke="#9a9a9a" stroke-width="0.6"/><line x1="122.81" y1="512.10" x2="122.81" y2="510.10" stroke="#9a9a9a" stroke-width="0.6"/><line x1="133.99" y1="512.10" x2="133.99" y2="510.90" stroke="#9a9a9a" stroke-width="0.6"/><line x1="140.53" y1="512.10" x2="140.53" y2="510.90" stroke="#9a9a9a" stroke-width="0.6"/><line x1="145.17" y1="512.10" x2="145.17" y2="510.90" stroke="#9a9a9a" stroke-width="0.6"/><line x1="148.77" y1="512.10" x2="148.77" y2="510.90" stroke="#9a9a9a" stroke-width="0.6"/><line x1="151.71" y1="512.10" x2="151.71" y2="510.90" stroke="#9a9a9a" stroke-width="0.6"/><line x1="154.19" y1="512.10" x2="154.19" y2="510.90" stroke="#9a9a9a" stroke-width="0.6"/><line x1="156.34" y1="512.10" x2="156.34" y2="510.90" stroke="#9a9a9a" stroke-width="0.6"/><line x1="158.24" y1="512.10" x2="158.24" y2="510.90" stroke="#9a9a9a" stroke-width="0.6"/><line x1="159.94" y1="512.10" x2="159.94" y2="510.10" stroke="#9a9a9a" stroke-width="0.6"/><line x1="171.12" y1="512.10" x2="171.12" y2="510.90" stroke="#9a9a9a" stroke-width="0.6"/><line x1="177.66" y1="512.10" x2="177.66" y2="510.90" stroke="#9a9a9a" stroke-width="0.6"/><line x1="182.30" y1="512.10" x2="182.30" y2="510.90" stroke="#9a9a9a" stroke-width="0.6"/><line x1="185.90" y1="512.10" x2="185.90" y2="510.90" stroke="#9a9a9a" stroke-width="0.6"/><line x1="22.60" y1="506.66" x2="23.80" y2="506.66" stroke="#9a9a9a" stroke-width="0.6"/><line x1="22.60" y1="498.12" x2="24.60" y2="498.12" stroke="#9a9a9a" stroke-width="0.6"/><line x1="22.60" y1="491.14" x2="23.80" y2="491.14" stroke="#9a9a9a" stroke-width="0.6"/><line x1="22.60" y1="485.25" x2="23.80" y2="485.25" stroke="#9a9a9a" stroke-width="0.6"/><line x1="22.60" y1="480.14" x2="23.80" y2="480.14" stroke="#9a9a9a" stroke-width="0.6"/><line x1="22.60" y1="475.63" x2="23.80" y2="475.63" stroke="#9a9a9a" stroke-width="0.6"/><line x1="22.60" y1="471.60" x2="24.60" y2="471.60" stroke="#9a9a9a" stroke-width="0.6"/><line x1="22.60" y1="445.08" x2="24.60" y2="445.08" stroke="#9a9a9a" stroke-width="0.6"/><line x1="22.60" y1="429.57" x2="24.60" y2="429.57" stroke="#9a9a9a" stroke-width="0.6"/><line x1="22.60" y1="418.56" x2="24.60" y2="418.56" stroke="#9a9a9a" stroke-width="0.6"/><line x1="22.60" y1="410.02" x2="24.60" y2="410.02" stroke="#9a9a9a" stroke-width="0.6"/><line x1="22.60" y1="403.04" x2="23.80" y2="403.04" stroke="#9a9a9a" stroke-width="0.6"/><line x1="22.60" y1="400.58" x2="24.60" y2="400.58" stroke="#9a9a9a" stroke-width="0.6"/><line x1="22.60" y1="397.15" x2="23.80" y2="397.15" stroke="#9a9a9a" stroke-width="0.6"/><line x1="22.60" y1="392.04" x2="24.60" y2="392.04" stroke="#9a9a9a" stroke-width="0.6"/><line x1="22.60" y1="387.53" x2="23.80" y2="387.53" stroke="#9a9a9a" stroke-width="0.6"/><line x1="22.60" y1="383.50" x2="24.60" y2="383.50" stroke="#9a9a9a" stroke-width="0.6"/>
<text x="20.40" y="385.80" text-anchor="end" font-family="Liberation Sans" font-size="4.85" fill="#555">1</text><text x="20.40" y="394.34" text-anchor="end" font-family="Liberation Sans" font-size="4.85" fill="#555">0.80</text><text x="20.40" y="402.88" text-anchor="end" font-family="Liberation Sans" font-size="4.85" fill="#555">0.64</text><text x="20.40" y="412.32" text-anchor="end" font-family="Liberation Sans" font-size="4.85" fill="#555">0.50</text><text x="20.40" y="420.86" text-anchor="end" font-family="Liberation Sans" font-size="4.85" fill="#555">0.40</text><text x="20.40" y="431.87" text-anchor="end" font-family="Liberation Sans" font-size="4.85" fill="#555">0.30</text><text x="20.40" y="447.38" text-anchor="end" font-family="Liberation Sans" font-size="4.85" fill="#555">0.20</text><text x="20.40" y="473.90" text-anchor="end" font-family="Liberation Sans" font-size="4.85" fill="#555">0.10</text><text x="20.40" y="500.42" text-anchor="end" font-family="Liberation Sans" font-size="4.85" fill="#555">0.05</text><text x="47.95" y="520.70" text-anchor="middle" font-family="Liberation Sans" font-size="5" fill="#555">10<tspan font-size="3.5" dy="-2.4">-2</tspan></text><text x="85.08" y="520.70" text-anchor="middle" font-family="Liberation Sans" font-size="5" fill="#555">10<tspan font-size="3.5" dy="-2.4">-1</tspan></text><text x="122.21" y="520.70" text-anchor="middle" font-family="Liberation Sans" font-size="5" fill="#555">10<tspan font-size="3.5" dy="-2.4">0</tspan></text><text x="159.34" y="520.70" text-anchor="middle" font-family="Liberation Sans" font-size="5" fill="#555">10<tspan font-size="3.5" dy="-2.4">1</tspan></text><text x="104.25" y="527.60" text-anchor="middle" font-family="Liberation Serif" font-size="5.4" fill="#444">false positives per image</text><text transform="translate(8.40,447.80) rotate(-90)" text-anchor="middle" font-family="Liberation Serif" font-size="5.4" fill="#444">miss rate</text>
<rect x="27.50" y="426.10" width="77.90" height="80.50" fill="#fff" stroke="#a0a0a0" stroke-width="0.8"/><line x1="30.10" y1="430.30" x2="46.00" y2="430.30" stroke="#72ec24" stroke-width="1.25"/><text transform="translate(47.80,432.15) scale(0.93,1)" font-family="Liberation Serif" font-size="5.5" fill="#383838">63.43% ACF+C+T</text><line x1="30.10" y1="436.39" x2="46.00" y2="436.39" stroke="#c2c2ff" stroke-width="1.25"/><text transform="translate(47.80,438.24) scale(0.93,1)" font-family="Liberation Serif" font-size="5.5" fill="#383838">49.62% Fusion RPN+BDT</text><line x1="30.10" y1="442.48" x2="46.00" y2="442.48" stroke="#22a688" stroke-width="1.25"/><text transform="translate(47.80,444.33) scale(0.93,1)" font-family="Liberation Serif" font-size="5.5" fill="#383838">48.98% IATDNN+IAMSS</text><line x1="30.10" y1="448.57" x2="46.00" y2="448.57" stroke="#58c030" stroke-width="1.25"/><text transform="translate(47.80,450.43) scale(0.93,1)" font-family="Liberation Serif" font-size="5.5" fill="#383838">45.34% Halfway Fusion</text><line x1="30.50" y1="454.67" x2="41.80" y2="454.67" stroke="#cc3a6a" stroke-width="1.3" stroke-dasharray="3.9,3.5"/><text transform="translate(47.80,456.52) scale(0.93,1)" font-family="Liberation Serif" font-size="5.5" fill="#383838">42.88% IAF-RCNN</text><line x1="30.50" y1="460.76" x2="41.80" y2="460.76" stroke="#f8607e" stroke-width="1.3" stroke-dasharray="3.9,3.5"/><text transform="translate(47.80,462.61) scale(0.93,1)" font-family="Liberation Serif" font-size="5.5" fill="#383838">35.89% AFSS</text><line x1="30.50" y1="466.85" x2="41.80" y2="466.85" stroke="#7a44ee" stroke-width="1.3" stroke-dasharray="3.9,3.5"/><text transform="translate(47.80,468.70) scale(0.93,1)" font-family="Liberation Serif" font-size="5.5" fill="#383838">35.10% CIAN</text><line x1="30.10" y1="472.94" x2="46.00" y2="472.94" stroke="#40e6aa" stroke-width="1.25"/><text transform="translate(47.80,474.79) scale(0.93,1)" font-family="Liberation Serif" font-size="5.5" fill="#383838">32.93% ARCNN</text><line x1="30.50" y1="479.03" x2="41.80" y2="479.03" stroke="#ff3030" stroke-width="1.3" stroke-dasharray="3.9,3.5"/><text transform="translate(47.80,480.88) scale(0.93,1)" font-family="Liberation Serif" font-size="5.5" fill="#383838">31.70% MSDS-RCNN(org)</text><line x1="30.10" y1="485.12" x2="46.00" y2="485.12" stroke="#8e8eff" stroke-width="1.25"/><text transform="translate(47.80,486.98) scale(0.93,1)" font-family="Liberation Serif" font-size="5.5" fill="#383838">30.38% MSDS(sanitized)</text><line x1="30.50" y1="491.22" x2="41.80" y2="491.22" stroke="#4040f0" stroke-width="1.3" stroke-dasharray="3.9,3.5"/><text transform="translate(47.80,493.07) scale(0.93,1)" font-family="Liberation Serif" font-size="5.5" fill="#383838">29.35% MBNet</text><line x1="30.50" y1="497.31" x2="41.80" y2="497.31" stroke="#383838" stroke-width="1.3" stroke-dasharray="3.9,3.5"/><text transform="translate(47.80,499.16) scale(0.93,1)" font-family="Liberation Serif" font-size="5.5" fill="#383838">22.02% FusionCSPNet</text><line x1="30.10" y1="503.40" x2="46.00" y2="503.40" stroke="#2f9e3c" stroke-width="1.25"/><text transform="translate(47.80,505.25) scale(0.93,1)" font-family="Liberation Serif" font-size="5.5" fill="#383838">19.66% Ours</text>
<text x="66.80" y="544.10" font-family="Liberation Serif" font-size="11.2" fill="#1a1a1a" stroke="#1a1a1a" stroke-width="0.22">(e)<tspan dx="1.4"> All daytime</tspan></text>
<line x1="262.05" y1="383.50" x2="262.05" y2="512.10" stroke="#ebebeb" stroke-width="0.6"/><line x1="299.18" y1="383.50" x2="299.18" y2="512.10" stroke="#ebebeb" stroke-width="0.6"/><line x1="336.31" y1="383.50" x2="336.31" y2="512.10" stroke="#ebebeb" stroke-width="0.6"/><line x1="373.44" y1="383.50" x2="373.44" y2="512.10" stroke="#ebebeb" stroke-width="0.6"/><line x1="236.10" y1="392.04" x2="399.40" y2="392.04" stroke="#ebebeb" stroke-width="0.6"/><line x1="236.10" y1="400.58" x2="399.40" y2="400.58" stroke="#ebebeb" stroke-width="0.6"/><line x1="236.10" y1="410.02" x2="399.40" y2="410.02" stroke="#ebebeb" stroke-width="0.6"/><line x1="236.10" y1="418.56" x2="399.40" y2="418.56" stroke="#ebebeb" stroke-width="0.6"/><line x1="236.10" y1="429.57" x2="399.40" y2="429.57" stroke="#ebebeb" stroke-width="0.6"/><line x1="236.10" y1="445.08" x2="399.40" y2="445.08" stroke="#ebebeb" stroke-width="0.6"/><line x1="236.10" y1="471.60" x2="399.40" y2="471.60" stroke="#ebebeb" stroke-width="0.6"/><line x1="236.10" y1="498.12" x2="399.40" y2="498.12" stroke="#ebebeb" stroke-width="0.6"/><path d="M236.10 383.50H399.40V512.10" fill="none" stroke="#ececec" stroke-width="0.7"/>
<polyline points="236.3,384.6 245.3,384.6 247.9,385.6 260.8,386.5 270.0,387.6 282.9,390.2 295.8,394.0 308.7,397.9 321.6,403.1 330.0,405.6 337.3,408.0 361.0,416.3 373.9,420.0 379.9,421.0 399.0,424.2" fill="none" stroke="#72ec24" stroke-width="1.55" stroke-linejoin="round"/>
<polyline points="236.3,386.5 245.3,387.2 250.5,389.1 260.8,389.7 267.3,391.0 270.0,392.1 276.5,396.6 282.9,400.5 289.4,404.4 295.8,408.2 302.3,413.4 308.7,416.0 315.2,418.5 321.6,421.1 330.0,423.7 348.7,428.7 368.0,430.6 387.4,430.6" fill="none" stroke="#58c030" stroke-width="1.4" stroke-linejoin="round"/>
<polyline points="236.3,385.2 245.0,386.5 250.5,389.7 250.5,393.6 255.6,394.3 260.8,396.2 268.5,397.5 273.7,400.1 280.2,403.9 286.6,406.5 295.0,409.7 302.3,414.0 308.7,416.5 313.7,416.5 330.0,421.5 337.3,423.0 349.1,426.5" fill="none" stroke="#22a688" stroke-width="1.4" stroke-linejoin="round"/>
<polyline points="236.3,399.0 247.9,400.1 260.8,403.9 273.7,407.8 286.6,411.7 295.0,414.3 313.7,415.0 321.6,418.0 330.0,420.5 337.3,421.5 361.0,429.3 368.1,430.5" fill="none" stroke="#c2c2ff" stroke-width="1.4" stroke-linejoin="round"/>
<polyline points="236.3,385.9 242.7,387.2 250.5,387.8 254.4,390.4 260.8,392.3 267.3,394.5 273.7,398.0 278.9,401.4 284.0,405.5 289.3,410.5 295.5,413.8 302.3,416.0 308.7,418.5 315.2,419.8 321.6,420.5 330.0,421.5 356.2,422.0 382.3,421.8" fill="none" stroke="#cc3a6a" stroke-width="1.4" stroke-linejoin="round" stroke-dasharray="3.5,3.2" stroke-dashoffset="0"/>
<polyline points="236.3,392.3 242.7,394.9 249.2,394.9 254.4,398.8 260.8,402.0 267.3,405.2 273.9,408.5 282.9,413.4 289.4,417.3 295.8,421.1 302.3,423.7 308.7,427.6 319.0,429.0 339.0,429.3 356.4,430.6" fill="none" stroke="#ff3030" stroke-width="1.4" stroke-linejoin="round" stroke-dasharray="3.5,3.2" stroke-dashoffset="2.6"/>
<polyline points="236.3,396.2 238.9,398.8 240.2,401.4 246.6,401.4 250.5,405.2 260.8,407.8 268.5,411.7 276.3,414.3 282.9,418.5 286.6,419.0 295.8,423.7 305.0,428.0 313.7,430.5 319.0,432.1 339.0,433.9 368.0,434.5 391.5,435.1" fill="none" stroke="#40e6aa" stroke-width="1.4" stroke-linejoin="round"/>
<polyline points="236.3,394.9 241.5,394.3 250.5,394.9 255.0,399.0 260.8,402.6 268.5,406.5 276.3,410.4 284.0,414.3 291.8,416.8 300.0,424.0 310.0,432.0 319.7,441.3 329.4,449.0 341.0,453.9 352.6,457.7 368.0,461.6 383.5,463.5 399.0,466.0" fill="none" stroke="#7a44ee" stroke-width="1.4" stroke-linejoin="round" stroke-dasharray="3.5,3.2" stroke-dashoffset="1.3"/>
<polyline points="236.3,402.0 247.0,406.0 260.8,411.7 273.7,416.8 286.6,422.0 295.0,425.9 305.0,432.0 317.7,438.4 339.0,438.8 358.4,439.4 366.1,442.3" fill="none" stroke="#8e8eff" stroke-width="1.4" stroke-linejoin="round"/>
<polyline points="236.3,398.8 248.0,404.0 260.8,410.4 273.7,415.5 286.6,422.0 300.0,430.0 310.0,436.0 319.7,441.3 333.2,452.9 344.8,460.6 356.4,468.4 366.1,477.1 377.7,481.0 391.3,482.9" fill="none" stroke="#f8607e" stroke-width="1.4" stroke-linejoin="round" stroke-dasharray="3.5,3.2" stroke-dashoffset="3.9"/>
<polyline points="236.3,400.1 247.9,403.9 260.8,407.8 270.0,412.0 282.9,416.0 289.4,419.8 295.8,423.7 301.0,426.3 310.0,436.0 319.7,447.1 329.4,456.8 339.0,466.4 348.7,474.2 352.6,476.1" fill="none" stroke="#4040f0" stroke-width="1.4" stroke-linejoin="round" stroke-dasharray="3.5,3.2" stroke-dashoffset="5.2"/>
<polyline points="236.3,410.4 240.2,413.0 245.0,413.0 247.9,415.5 254.4,416.8 260.8,418.1 267.3,420.7 273.7,423.0 280.2,426.0 295.0,438.0 305.0,448.0 317.7,458.7 327.4,470.3 335.2,481.9 341.0,491.6 346.8,503.2 350.6,511.8" fill="none" stroke="#2f9e3c" stroke-width="1.4" stroke-linejoin="round"/>
<polyline points="236.3,403.9 242.7,405.9 247.9,409.1 254.4,411.7 260.8,414.3 267.3,416.8 273.7,419.4 280.3,422.4 290.0,430.0 300.0,440.0 310.0,455.0 317.7,466.4 329.4,478.1 339.0,487.7 348.7,492.6 360.3,499.4 371.9,503.2 383.5,505.7 395.2,506.1" fill="none" stroke="#383838" stroke-width="1.4" stroke-linejoin="round" stroke-dasharray="3.5,3.2" stroke-dashoffset="4.5"/>
<path d="M236.10 383.50V512.10H399.40" fill="none" stroke="#9a9a9a" stroke-width="1"/><line x1="236.10" y1="512.10" x2="236.10" y2="510.90" stroke="#9a9a9a" stroke-width="0.6"/><line x1="242.64" y1="512.10" x2="242.64" y2="510.90" stroke="#9a9a9a" stroke-width="0.6"/><line x1="247.28" y1="512.10" x2="247.28" y2="510.90" stroke="#9a9a9a" stroke-width="0.6"/><line x1="250.88" y1="512.10" x2="250.88" y2="510.90" stroke="#9a9a9a" stroke-width="0.6"/><line x1="253.82" y1="512.10" x2="253.82" y2="510.90" stroke="#9a9a9a" stroke-width="0.6"/><line x1="256.30" y1="512.10" x2="256.30" y2="510.90" stroke="#9a9a9a" stroke-width="0.6"/><line x1="258.45" y1="512.10" x2="258.45" y2="510.90" stroke="#9a9a9a" stroke-width="0.6"/><line x1="260.35" y1="512.10" x2="260.35" y2="510.90" stroke="#9a9a9a" stroke-width="0.6"/><line x1="262.05" y1="512.10" x2="262.05" y2="510.10" stroke="#9a9a9a" stroke-width="0.6"/><line x1="273.23" y1="512.10" x2="273.23" y2="510.90" stroke="#9a9a9a" stroke-width="0.6"/><line x1="279.77" y1="512.10" x2="279.77" y2="510.90" stroke="#9a9a9a" stroke-width="0.6"/><line x1="284.41" y1="512.10" x2="284.41" y2="510.90" stroke="#9a9a9a" stroke-width="0.6"/><line x1="288.01" y1="512.10" x2="288.01" y2="510.90" stroke="#9a9a9a" stroke-width="0.6"/><line x1="290.95" y1="512.10" x2="290.95" y2="510.90" stroke="#9a9a9a" stroke-width="0.6"/><line x1="293.43" y1="512.10" x2="293.43" y2="510.90" stroke="#9a9a9a" stroke-width="0.6"/><line x1="295.58" y1="512.10" x2="295.58" y2="510.90" stroke="#9a9a9a" stroke-width="0.6"/><line x1="297.48" y1="512.10" x2="297.48" y2="510.90" stroke="#9a9a9a" stroke-width="0.6"/><line x1="299.18" y1="512.10" x2="299.18" y2="510.10" stroke="#9a9a9a" stroke-width="0.6"/><line x1="310.36" y1="512.10" x2="310.36" y2="510.90" stroke="#9a9a9a" stroke-width="0.6"/><line x1="316.90" y1="512.10" x2="316.90" y2="510.90" stroke="#9a9a9a" stroke-width="0.6"/><line x1="321.54" y1="512.10" x2="321.54" y2="510.90" stroke="#9a9a9a" stroke-width="0.6"/><line x1="325.14" y1="512.10" x2="325.14" y2="510.90" stroke="#9a9a9a" stroke-width="0.6"/><line x1="328.08" y1="512.10" x2="328.08" y2="510.90" stroke="#9a9a9a" stroke-width="0.6"/><line x1="330.56" y1="512.10" x2="330.56" y2="510.90" stroke="#9a9a9a" stroke-width="0.6"/><line x1="332.71" y1="512.10" x2="332.71" y2="510.90" stroke="#9a9a9a" stroke-width="0.6"/><line x1="334.61" y1="512.10" x2="334.61" y2="510.90" stroke="#9a9a9a" stroke-width="0.6"/><line x1="336.31" y1="512.10" x2="336.31" y2="510.10" stroke="#9a9a9a" stroke-width="0.6"/><line x1="347.49" y1="512.10" x2="347.49" y2="510.90" stroke="#9a9a9a" stroke-width="0.6"/><line x1="354.03" y1="512.10" x2="354.03" y2="510.90" stroke="#9a9a9a" stroke-width="0.6"/><line x1="358.67" y1="512.10" x2="358.67" y2="510.90" stroke="#9a9a9a" stroke-width="0.6"/><line x1="362.27" y1="512.10" x2="362.27" y2="510.90" stroke="#9a9a9a" stroke-width="0.6"/><line x1="365.21" y1="512.10" x2="365.21" y2="510.90" stroke="#9a9a9a" stroke-width="0.6"/><line x1="367.69" y1="512.10" x2="367.69" y2="510.90" stroke="#9a9a9a" stroke-width="0.6"/><line x1="369.84" y1="512.10" x2="369.84" y2="510.90" stroke="#9a9a9a" stroke-width="0.6"/><line x1="371.74" y1="512.10" x2="371.74" y2="510.90" stroke="#9a9a9a" stroke-width="0.6"/><line x1="373.44" y1="512.10" x2="373.44" y2="510.10" stroke="#9a9a9a" stroke-width="0.6"/><line x1="384.62" y1="512.10" x2="384.62" y2="510.90" stroke="#9a9a9a" stroke-width="0.6"/><line x1="391.16" y1="512.10" x2="391.16" y2="510.90" stroke="#9a9a9a" stroke-width="0.6"/><line x1="395.80" y1="512.10" x2="395.80" y2="510.90" stroke="#9a9a9a" stroke-width="0.6"/><line x1="399.40" y1="512.10" x2="399.40" y2="510.90" stroke="#9a9a9a" stroke-width="0.6"/><line x1="236.10" y1="506.66" x2="237.30" y2="506.66" stroke="#9a9a9a" stroke-width="0.6"/><line x1="236.10" y1="498.12" x2="238.10" y2="498.12" stroke="#9a9a9a" stroke-width="0.6"/><line x1="236.10" y1="491.14" x2="237.30" y2="491.14" stroke="#9a9a9a" stroke-width="0.6"/><line x1="236.10" y1="485.25" x2="237.30" y2="485.25" stroke="#9a9a9a" stroke-width="0.6"/><line x1="236.10" y1="480.14" x2="237.30" y2="480.14" stroke="#9a9a9a" stroke-width="0.6"/><line x1="236.10" y1="475.63" x2="237.30" y2="475.63" stroke="#9a9a9a" stroke-width="0.6"/><line x1="236.10" y1="471.60" x2="238.10" y2="471.60" stroke="#9a9a9a" stroke-width="0.6"/><line x1="236.10" y1="445.08" x2="238.10" y2="445.08" stroke="#9a9a9a" stroke-width="0.6"/><line x1="236.10" y1="429.57" x2="238.10" y2="429.57" stroke="#9a9a9a" stroke-width="0.6"/><line x1="236.10" y1="418.56" x2="238.10" y2="418.56" stroke="#9a9a9a" stroke-width="0.6"/><line x1="236.10" y1="410.02" x2="238.10" y2="410.02" stroke="#9a9a9a" stroke-width="0.6"/><line x1="236.10" y1="403.04" x2="237.30" y2="403.04" stroke="#9a9a9a" stroke-width="0.6"/><line x1="236.10" y1="400.58" x2="238.10" y2="400.58" stroke="#9a9a9a" stroke-width="0.6"/><line x1="236.10" y1="397.15" x2="237.30" y2="397.15" stroke="#9a9a9a" stroke-width="0.6"/><line x1="236.10" y1="392.04" x2="238.10" y2="392.04" stroke="#9a9a9a" stroke-width="0.6"/><line x1="236.10" y1="387.53" x2="237.30" y2="387.53" stroke="#9a9a9a" stroke-width="0.6"/><line x1="236.10" y1="383.50" x2="238.10" y2="383.50" stroke="#9a9a9a" stroke-width="0.6"/>
<text x="233.90" y="385.80" text-anchor="end" font-family="Liberation Sans" font-size="4.85" fill="#555">1</text><text x="233.90" y="394.34" text-anchor="end" font-family="Liberation Sans" font-size="4.85" fill="#555">0.80</text><text x="233.90" y="402.88" text-anchor="end" font-family="Liberation Sans" font-size="4.85" fill="#555">0.64</text><text x="233.90" y="412.32" text-anchor="end" font-family="Liberation Sans" font-size="4.85" fill="#555">0.50</text><text x="233.90" y="420.86" text-anchor="end" font-family="Liberation Sans" font-size="4.85" fill="#555">0.40</text><text x="233.90" y="431.87" text-anchor="end" font-family="Liberation Sans" font-size="4.85" fill="#555">0.30</text><text x="233.90" y="447.38" text-anchor="end" font-family="Liberation Sans" font-size="4.85" fill="#555">0.20</text><text x="233.90" y="473.90" text-anchor="end" font-family="Liberation Sans" font-size="4.85" fill="#555">0.10</text><text x="233.90" y="500.42" text-anchor="end" font-family="Liberation Sans" font-size="4.85" fill="#555">0.05</text><text x="261.45" y="520.70" text-anchor="middle" font-family="Liberation Sans" font-size="5" fill="#555">10<tspan font-size="3.5" dy="-2.4">-2</tspan></text><text x="298.58" y="520.70" text-anchor="middle" font-family="Liberation Sans" font-size="5" fill="#555">10<tspan font-size="3.5" dy="-2.4">-1</tspan></text><text x="335.71" y="520.70" text-anchor="middle" font-family="Liberation Sans" font-size="5" fill="#555">10<tspan font-size="3.5" dy="-2.4">0</tspan></text><text x="372.84" y="520.70" text-anchor="middle" font-family="Liberation Sans" font-size="5" fill="#555">10<tspan font-size="3.5" dy="-2.4">1</tspan></text><text x="317.75" y="527.60" text-anchor="middle" font-family="Liberation Serif" font-size="5.4" fill="#444">false positives per image</text><text transform="translate(221.90,447.80) rotate(-90)" text-anchor="middle" font-family="Liberation Serif" font-size="5.4" fill="#444">miss rate</text>
<rect x="241.10" y="426.10" width="77.60" height="80.70" fill="#fff" stroke="#a0a0a0" stroke-width="0.8"/><line x1="243.70" y1="430.30" x2="259.60" y2="430.30" stroke="#72ec24" stroke-width="1.25"/><text transform="translate(261.40,432.15) scale(0.93,1)" font-family="Liberation Serif" font-size="5.5" fill="#383838">72.03% ACF+C+T</text><line x1="243.70" y1="436.41" x2="259.60" y2="436.41" stroke="#58c030" stroke-width="1.25"/><text transform="translate(261.40,438.26) scale(0.93,1)" font-family="Liberation Serif" font-size="5.5" fill="#383838">49.62% Halfway Fusion</text><line x1="243.70" y1="442.52" x2="259.60" y2="442.52" stroke="#22a688" stroke-width="1.25"/><text transform="translate(261.40,444.37) scale(0.93,1)" font-family="Liberation Serif" font-size="5.5" fill="#383838">49.08% IATDNN+IAMSS</text><line x1="243.70" y1="448.62" x2="259.60" y2="448.62" stroke="#c2c2ff" stroke-width="1.25"/><text transform="translate(261.40,450.48) scale(0.93,1)" font-family="Liberation Serif" font-size="5.5" fill="#383838">47.75% Fusion RPN+BDT</text><line x1="244.10" y1="454.73" x2="255.40" y2="454.73" stroke="#cc3a6a" stroke-width="1.3" stroke-dasharray="3.9,3.5"/><text transform="translate(261.40,456.58) scale(0.93,1)" font-family="Liberation Serif" font-size="5.5" fill="#383838">47.29% IAF-RCNN</text><line x1="244.10" y1="460.84" x2="255.40" y2="460.84" stroke="#ff3030" stroke-width="1.3" stroke-dasharray="3.9,3.5"/><text transform="translate(261.40,462.69) scale(0.93,1)" font-family="Liberation Serif" font-size="5.5" fill="#383838">38.93% MSDS-RCNN(org)</text><line x1="243.70" y1="466.95" x2="259.60" y2="466.95" stroke="#40e6aa" stroke-width="1.25"/><text transform="translate(261.40,468.80) scale(0.93,1)" font-family="Liberation Serif" font-size="5.5" fill="#383838">35.21% ARCNN</text><line x1="244.10" y1="473.06" x2="255.40" y2="473.06" stroke="#7a44ee" stroke-width="1.3" stroke-dasharray="3.9,3.5"/><text transform="translate(261.40,474.91) scale(0.93,1)" font-family="Liberation Serif" font-size="5.5" fill="#383838">33.11% CIAN</text><line x1="243.70" y1="479.17" x2="259.60" y2="479.17" stroke="#8e8eff" stroke-width="1.25"/><text transform="translate(261.40,481.02) scale(0.93,1)" font-family="Liberation Serif" font-size="5.5" fill="#383838">30.54% MSDS(sanitized)</text><line x1="244.10" y1="485.27" x2="255.40" y2="485.27" stroke="#f8607e" stroke-width="1.3" stroke-dasharray="3.9,3.5"/><text transform="translate(261.40,487.12) scale(0.93,1)" font-family="Liberation Serif" font-size="5.5" fill="#383838">29.89% AFSS</text><line x1="244.10" y1="491.38" x2="255.40" y2="491.38" stroke="#4040f0" stroke-width="1.3" stroke-dasharray="3.9,3.5"/><text transform="translate(261.40,493.23) scale(0.93,1)" font-family="Liberation Serif" font-size="5.5" fill="#383838">28.46% MBNet</text><line x1="243.70" y1="497.49" x2="259.60" y2="497.49" stroke="#2f9e3c" stroke-width="1.25"/><text transform="translate(261.40,499.34) scale(0.93,1)" font-family="Liberation Serif" font-size="5.5" fill="#383838">19.64% FusionCSPNet</text><line x1="244.10" y1="503.60" x2="255.40" y2="503.60" stroke="#383838" stroke-width="1.3" stroke-dasharray="3.9,3.5"/><text transform="translate(261.40,505.45) scale(0.93,1)" font-family="Liberation Serif" font-size="5.5" fill="#383838">19.47% Ours</text>
<text x="278.20" y="544.10" font-family="Liberation Serif" font-size="11.2" fill="#1a1a1a" stroke="#1a1a1a" stroke-width="0.22">(f)<tspan dx="1.2"> All nighttime</tspan></text>
</svg></body></html>
